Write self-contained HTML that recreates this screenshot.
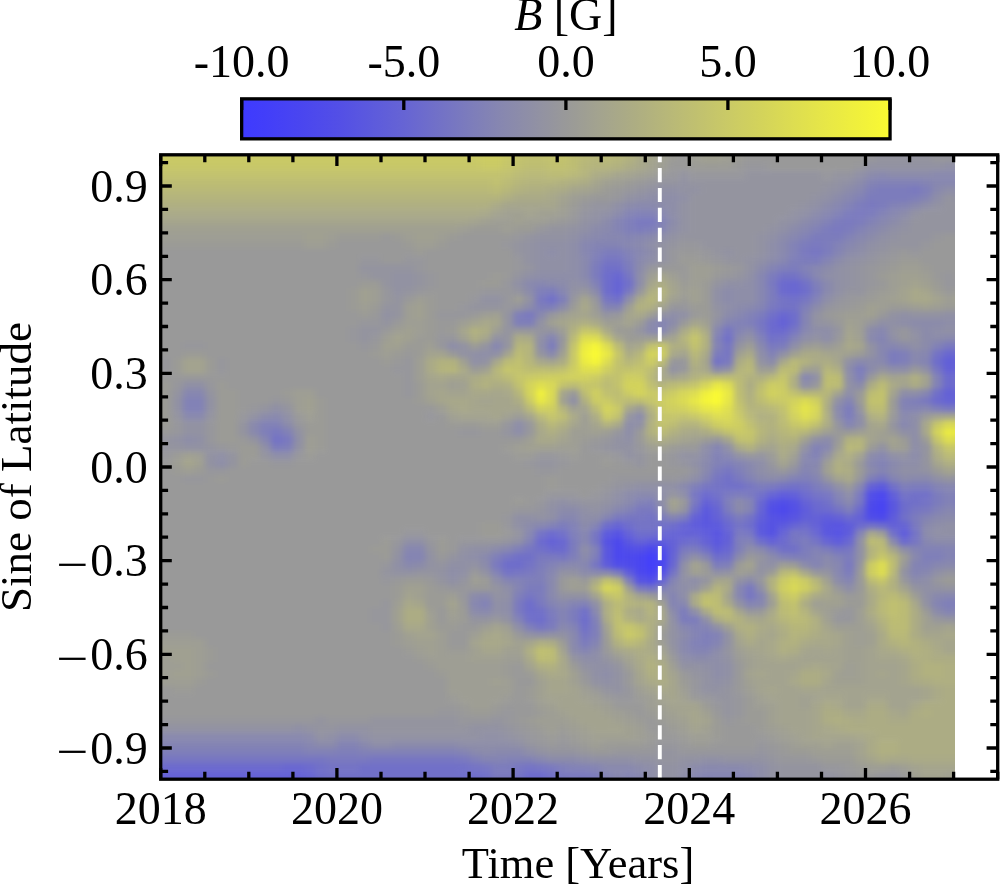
<!DOCTYPE html>
<html><head><meta charset="utf-8"><title>Butterfly diagram</title>
<style>
html,body{margin:0;padding:0;background:#fff;}
svg{display:block;}
text{font-family:"Liberation Serif","Times New Roman",serif;font-size:46px;fill:#000;}
.al{font-size:45px;}
</style></head><body>
<svg width="1000" height="885" viewBox="0 0 1000 885">
<rect width="1000" height="885" fill="#fff"/>
<defs><clipPath id="dc"><rect x="160.7" y="154.8" width="794.3" height="624.4"/></clipPath>
<filter id="bl" x="0" y="0" width="1" height="1" filterUnits="objectBoundingBox" color-interpolation-filters="sRGB"><feGaussianBlur stdDeviation="3 2.5" edgeMode="duplicate"/></filter></defs>
<g clip-path="url(#dc)"><g filter="url(#bl)">
<path fill="#caca66" d="M116.6 123.6H502.5V131.8H116.6zM116.6 131.4H502.5V139.6H116.6zM116.6 139.2H502.5V147.4H116.6zM116.6 147.0H491.5V155.2H116.6zM116.6 154.8H480.5V163.0H116.6zM480.1 162.6H502.5V170.8H480.1zM568.2 349.9H579.6V358.1H568.2zM568.2 357.7H579.6V365.9H568.2zM524.1 373.3H535.5V381.5H524.1zM777.4 381.1H788.9V389.4H777.4zM645.3 389.0H656.7V397.2H645.3zM524.1 396.8H535.5V405.0H524.1zM601.2 396.8H612.6V405.0H601.2zM777.4 396.8H788.9V405.0H777.4zM612.2 404.6H623.7V412.8H612.2zM656.3 404.6H667.7V412.8H656.3zM733.4 412.4H744.8V420.6H733.4zM733.4 428.0H744.8V436.2H733.4zM777.4 576.3H788.9V584.5H777.4zM799.5 576.3H810.9V584.5H799.5zM623.3 630.9H634.7V639.1H623.3z"/>
<path fill="#c7c768" d="M502.1 123.6H513.5V131.8H502.1zM502.1 131.4H513.5V139.6H502.1zM502.1 139.2H513.5V147.4H502.1zM502.1 147.0H513.5V155.2H502.1zM502.1 154.8H513.5V163.0H502.1zM116.6 162.6H480.5V170.8H116.6zM612.2 349.9H623.7V358.1H612.2zM766.4 396.8H777.8V405.0H766.4zM689.3 412.4H700.7V420.6H689.3zM788.5 420.2H799.9V428.4H788.5zM931.6 420.2H943.0V428.4H931.6zM942.6 443.6H954.0V451.8H942.6zM876.6 552.9H888.0V561.1H876.6zM876.6 576.3H888.0V584.5H876.6zM612.2 591.9H623.7V600.1H612.2z"/>
<path fill="#c2c26d" d="M513.1 123.6H524.5V131.8H513.1zM513.1 131.4H524.5V139.6H513.1zM513.1 139.2H524.5V147.4H513.1zM513.1 147.0H524.5V155.2H513.1zM557.2 147.0H568.6V155.2H557.2zM513.1 154.8H524.5V163.0H513.1zM546.2 154.8H568.6V163.0H546.2zM116.6 170.4H502.5V178.6H116.6zM590.2 326.5H601.6V334.7H590.2zM645.3 342.1H656.7V350.3H645.3zM689.3 342.1H700.7V350.3H689.3zM612.2 357.7H623.7V365.9H612.2zM513.1 365.5H524.5V373.7H513.1zM612.2 365.5H634.7V373.7H612.2zM612.2 373.3H623.7V381.5H612.2zM557.2 381.1H568.6V389.4H557.2zM612.2 381.1H623.7V389.4H612.2zM755.4 389.0H766.8V397.2H755.4zM876.6 389.0H888.0V397.2H876.6zM865.5 396.8H888.0V405.0H865.5zM777.4 404.6H788.9V412.8H777.4zM612.2 412.4H623.7V420.6H612.2zM678.3 412.4H689.7V420.6H678.3zM656.3 420.2H667.7V428.4H656.3zM810.5 420.2H821.9V428.4H810.5zM722.4 428.0H733.8V436.2H722.4zM744.4 435.8H755.8V444.0H744.4zM986.7 443.6H998.1V451.8H986.7zM601.2 576.3H612.6V584.5H601.2zM700.3 599.7H711.8V607.9H700.3zM788.5 599.7H799.9V607.9H788.5zM634.3 630.9H645.7V639.1H634.3z"/>
<path fill="#c0c070" d="M524.1 123.6H568.6V131.8H524.1zM524.1 131.4H568.6V139.6H524.1zM535.1 139.2H568.6V147.4H535.1zM524.1 147.0H557.6V155.2H524.1zM524.1 154.8H546.6V163.0H524.1zM513.1 162.6H524.5V170.8H513.1zM546.2 162.6H568.6V170.8H546.2zM502.1 170.4H513.5V178.6H502.1zM491.1 178.2H502.5V186.4H491.1zM601.2 334.3H612.6V342.5H601.2zM513.1 357.7H524.5V365.9H513.1zM557.2 365.5H568.6V373.7H557.2zM601.2 373.3H612.6V381.5H601.2zM513.1 381.1H524.5V389.4H513.1zM645.3 381.1H656.7V389.4H645.3zM678.3 381.1H689.7V389.4H678.3zM601.2 389.0H612.6V397.2H601.2zM788.5 389.0H799.9V397.2H788.5zM612.2 396.8H623.7V405.0H612.2zM733.4 396.8H744.8V405.0H733.4zM700.3 420.2H711.8V428.4H700.3zM744.4 420.2H755.8V428.4H744.4zM733.4 435.8H744.8V444.0H733.4zM964.7 443.6H987.1V451.8H964.7zM601.2 591.9H612.6V600.1H601.2zM887.6 599.7H899.0V607.9H887.6zM788.5 607.5H799.9V615.7H788.5zM887.6 607.5H899.0V615.7H887.6zM612.2 615.3H623.7V623.5H612.2zM612.2 623.1H623.7V631.3H612.2zM535.1 646.5H546.6V654.7H535.1z"/>
<path fill="#bdbd72" d="M568.2 123.6H579.6V131.8H568.2zM568.2 131.4H579.6V139.6H568.2zM524.1 139.2H535.5V147.4H524.1zM568.2 139.2H579.6V147.4H568.2zM568.2 147.0H579.6V155.2H568.2zM568.2 154.8H579.6V163.0H568.2zM524.1 162.6H546.6V170.8H524.1zM568.2 162.6H579.6V170.8H568.2zM116.6 178.2H491.5V186.4H116.6zM634.3 357.7H645.7V365.9H634.3zM524.1 365.5H546.6V373.7H524.1zM645.3 365.5H656.7V373.7H645.3zM711.4 373.3H722.8V381.5H711.4zM821.5 373.3H843.9V381.5H821.5zM755.4 381.1H766.8V389.4H755.4zM821.5 381.1H832.9V389.4H821.5zM579.2 389.0H590.6V397.2H579.2zM612.2 389.0H623.7V397.2H612.2zM733.4 389.0H744.8V397.2H733.4zM865.5 389.0H877.0V397.2H865.5zM634.3 396.8H645.7V405.0H634.3zM755.4 396.8H766.8V405.0H755.4zM876.6 404.6H888.0V412.8H876.6zM557.2 412.4H568.6V420.6H557.2zM777.4 412.4H788.9V420.6H777.4zM667.3 420.2H678.7V428.4H667.3zM865.5 537.2H877.0V545.5H865.5zM876.6 545.1H888.0V553.3H876.6zM887.6 560.7H899.0V568.9H887.6zM788.5 568.5H799.9V576.7H788.5zM865.5 576.3H877.0V584.5H865.5zM810.5 584.1H821.9V592.3H810.5zM700.3 591.9H711.8V600.1H700.3zM711.4 599.7H722.8V607.9H711.4zM777.4 599.7H788.9V607.9H777.4zM612.2 607.5H623.7V615.7H612.2zM711.4 607.5H722.8V615.7H711.4zM887.6 615.3H899.0V623.5H887.6zM634.3 623.1H645.7V631.3H634.3zM546.2 646.5H557.6V654.7H546.2zM535.1 654.3H546.6V662.5H535.1z"/>
<path fill="#b9b978" d="M579.2 123.6H590.6V131.8H579.2zM579.2 131.4H590.6V139.6H579.2zM579.2 139.2H590.6V147.4H579.2zM579.2 147.0H590.6V155.2H579.2zM579.2 154.8H590.6V163.0H579.2zM601.2 154.8H612.6V163.0H601.2zM524.1 170.4H546.6V178.6H524.1zM568.2 170.4H579.6V178.6H568.2zM116.6 186.0H491.5V194.2H116.6zM689.3 326.5H700.7V334.7H689.3zM689.3 349.9H700.7V358.1H689.3zM788.5 357.7H799.9V365.9H788.5zM744.4 365.5H755.8V373.7H744.4zM645.3 373.3H656.7V381.5H645.3zM700.3 373.3H711.8V381.5H700.3zM733.4 373.3H744.8V381.5H733.4zM766.4 373.3H777.8V381.5H766.4zM524.1 404.6H535.5V412.8H524.1zM766.4 404.6H777.8V412.8H766.4zM535.1 412.4H546.6V420.6H535.1zM744.4 412.4H755.8V420.6H744.4zM546.2 420.2H557.6V428.4H546.2zM843.5 443.6H854.9V451.8H843.5zM953.6 451.4H965.1V459.6H953.6zM876.6 537.2H888.0V545.5H876.6zM887.6 552.9H899.0V561.1H887.6zM777.4 568.5H788.9V576.7H777.4zM887.6 568.5H899.0V576.7H887.6zM876.6 584.1H888.0V592.3H876.6zM799.5 591.9H810.9V600.1H799.5zM876.6 599.7H888.0V607.9H876.6zM876.6 607.5H888.0V615.7H876.6zM799.5 615.3H810.9V623.5H799.5zM887.6 630.9H910.0V639.1H887.6z"/>
<path fill="#b6b67a" d="M590.2 123.6H612.6V131.8H590.2zM590.2 131.4H612.6V139.6H590.2zM590.2 139.2H612.6V147.4H590.2zM590.2 147.0H623.7V155.2H590.2zM590.2 154.8H601.6V163.0H590.2zM612.2 154.8H623.7V163.0H612.2zM579.2 162.6H590.6V170.8H579.2zM513.1 178.2H524.5V186.4H513.1zM502.1 186.0H513.5V194.2H502.1zM645.3 295.3H656.7V303.5H645.3zM513.1 342.1H524.5V350.3H513.1zM634.3 349.9H645.7V358.1H634.3zM524.1 357.7H535.5V365.9H524.1zM623.3 357.7H634.7V365.9H623.3zM744.4 357.7H755.8V365.9H744.4zM447.0 365.5H458.5V373.7H447.0zM491.1 365.5H502.5V373.7H491.1zM821.5 365.5H832.9V373.7H821.5zM513.1 389.0H524.5V397.2H513.1zM799.5 389.0H832.9V397.2H799.5zM711.4 428.0H722.8V436.2H711.4zM755.4 428.0H766.8V436.2H755.4zM777.4 428.0H788.9V436.2H777.4zM799.5 428.0H810.9V436.2H799.5zM854.5 443.6H865.9V451.8H854.5zM975.7 451.4H998.1V459.6H975.7zM865.5 552.9H877.0V561.1H865.5zM810.5 576.3H821.9V584.5H810.5zM590.2 584.1H601.6V592.3H590.2zM876.6 591.9H888.0V600.1H876.6zM722.4 615.3H733.8V623.5H722.4zM777.4 615.3H788.9V623.5H777.4zM788.5 623.1H810.9V631.3H788.5zM634.3 638.7H645.7V646.9H634.3zM898.6 638.7H910.0V646.9H898.6z"/>
<path fill="#b4b47d" d="M612.2 123.6H623.7V131.8H612.2zM612.2 131.4H623.7V139.6H612.2zM612.2 139.2H623.7V147.4H612.2zM590.2 162.6H612.6V170.8H590.2zM579.2 170.4H590.6V178.6H579.2zM524.1 178.2H557.6V186.4H524.1zM116.6 193.8H502.5V202.0H116.6zM656.3 287.5H667.7V295.7H656.3zM678.3 334.3H689.7V342.5H678.3zM524.1 342.1H535.5V350.3H524.1zM524.1 349.9H535.5V358.1H524.1zM436.0 365.5H447.4V373.7H436.0zM733.4 365.5H744.8V373.7H733.4zM491.1 373.3H502.5V381.5H491.1zM656.3 381.1H667.7V389.4H656.3zM557.2 404.6H568.6V412.8H557.2zM645.3 404.6H656.7V412.8H645.3zM744.4 404.6H766.8V412.8H744.4zM876.6 412.4H888.0V420.6H876.6zM601.2 420.2H612.6V428.4H601.2zM678.3 420.2H700.7V428.4H678.3zM755.4 420.2H766.8V428.4H755.4zM854.5 435.8H865.9V444.0H854.5zM931.6 443.6H943.0V451.8H931.6zM964.7 451.4H976.1V459.6H964.7zM865.5 545.1H877.0V553.3H865.5zM612.2 576.3H623.7V584.5H612.2zM711.4 584.1H722.8V592.3H711.4zM623.3 599.7H634.7V607.9H623.3zM645.3 599.7H656.7V607.9H645.3zM645.3 607.5H656.7V615.7H645.3zM799.5 607.5H810.9V615.7H799.5zM876.6 615.3H888.0V623.5H876.6zM788.5 630.9H799.9V639.1H788.5z"/>
<path fill="#afaf82" d="M623.3 123.6H634.7V131.8H623.3zM623.3 131.4H634.7V139.6H623.3zM623.3 139.2H634.7V147.4H623.3zM568.2 178.2H579.6V186.4H568.2zM524.1 186.0H546.6V194.2H524.1zM502.1 193.8H513.5V202.0H502.1zM116.6 201.6H491.5V209.8H116.6zM645.3 287.5H656.7V295.7H645.3zM656.3 295.3H667.7V303.5H656.3zM645.3 303.1H656.7V311.3H645.3zM579.2 318.7H590.6V326.9H579.2zM667.3 342.1H689.7V350.3H667.3zM832.5 365.5H843.9V373.7H832.5zM480.1 373.3H491.5V381.5H480.1zM755.4 373.3H766.8V381.5H755.4zM788.5 373.3H799.9V381.5H788.5zM909.6 373.3H921.0V381.5H909.6zM502.1 381.1H513.5V389.4H502.1zM788.5 381.1H799.9V389.4H788.5zM744.4 389.0H755.8V397.2H744.4zM821.5 396.8H832.9V405.0H821.5zM755.4 412.4H766.8V420.6H755.4zM821.5 412.4H832.9V420.6H821.5zM865.5 412.4H877.0V420.6H865.5zM546.2 428.0H557.6V436.2H546.2zM766.4 428.0H777.8V436.2H766.4zM843.5 451.4H854.9V459.6H843.5zM832.5 459.2H843.9V467.4H832.5zM942.6 459.2H965.1V467.4H942.6zM832.5 467.0H843.9V475.2H832.5zM865.5 584.1H877.0V592.3H865.5zM601.2 599.7H612.6V607.9H601.2zM601.2 607.5H612.6V615.7H601.2zM645.3 615.3H656.7V623.5H645.3zM810.5 615.3H821.9V623.5H810.5zM645.3 623.1H656.7V631.3H645.3zM733.4 623.1H744.8V631.3H733.4zM777.4 623.1H788.9V631.3H777.4zM810.5 623.1H821.9V631.3H810.5zM876.6 623.1H888.0V631.3H876.6zM645.3 630.9H656.7V639.1H645.3zM744.4 630.9H755.8V639.1H744.4zM535.1 638.7H546.6V646.9H535.1zM777.4 638.7H788.9V646.9H777.4zM524.1 646.5H535.5V654.7H524.1zM777.4 646.5H788.9V654.7H777.4zM898.6 646.5H910.0V654.7H898.6zM920.6 646.5H932.0V654.7H920.6zM645.3 654.3H656.7V662.5H645.3zM909.6 654.3H932.0V662.5H909.6zM535.1 662.1H546.6V670.3H535.1zM942.6 662.1H965.1V670.3H942.6zM986.7 662.1H998.1V670.3H986.7zM645.3 669.9H656.7V678.1H645.3zM942.6 669.9H998.1V678.1H942.6zM931.6 677.7H998.1V685.9H931.6zM920.6 709.0H932.0V717.2H920.6zM832.5 716.8H843.9V725.0H832.5zM876.6 740.2H899.0V748.4H876.6zM876.6 748.0H899.0V756.2H876.6z"/>
<path fill="#aaaa87" d="M634.3 123.6H645.7V131.8H634.3zM634.3 131.4H645.7V139.6H634.3zM634.3 139.2H645.7V147.4H634.3zM634.3 147.0H645.7V155.2H634.3zM634.3 154.8H645.7V163.0H634.3zM601.2 170.4H612.6V178.6H601.2zM557.2 186.0H568.6V194.2H557.2zM513.1 193.8H546.6V202.0H513.1zM491.1 201.6H502.5V209.8H491.1zM116.6 209.4H480.5V217.6H116.6zM634.3 295.3H645.7V303.5H634.3zM568.2 318.7H579.6V326.9H568.2zM590.2 318.7H601.6V326.9H590.2zM601.2 326.5H612.6V334.7H601.2zM678.3 326.5H689.7V334.7H678.3zM700.3 326.5H711.8V334.7H700.3zM524.1 334.3H535.5V342.5H524.1zM700.3 349.9H711.8V358.1H700.3zM744.4 349.9H755.8V358.1H744.4zM799.5 349.9H821.9V358.1H799.5zM425.0 357.7H436.4V365.9H425.0zM810.5 357.7H821.9V365.9H810.5zM425.0 365.5H436.4V373.7H425.0zM458.1 365.5H469.5V373.7H458.1zM656.3 365.5H667.7V373.7H656.3zM469.1 373.3H480.5V381.5H469.1zM876.6 373.3H888.0V381.5H876.6zM887.6 381.1H899.0V389.4H887.6zM568.2 412.4H579.6V420.6H568.2zM612.2 420.2H623.7V428.4H612.2zM678.3 428.0H689.7V436.2H678.3zM810.5 428.0H821.9V436.2H810.5zM766.4 435.8H777.8V444.0H766.4zM733.4 443.6H744.8V451.8H733.4zM777.4 451.4H788.9V459.6H777.4zM843.5 459.2H854.9V467.4H843.5zM590.2 576.3H601.6V584.5H590.2zM722.4 584.1H733.8V592.3H722.4zM689.3 591.9H700.7V600.1H689.3zM810.5 591.9H821.9V600.1H810.5zM865.5 591.9H877.0V600.1H865.5zM689.3 599.7H700.7V607.9H689.3zM722.4 599.7H733.8V607.9H722.4zM865.5 599.7H877.0V607.9H865.5zM700.3 607.5H711.8V615.7H700.3zM634.3 615.3H645.7V623.5H634.3zM755.4 623.1H766.8V631.3H755.4zM876.6 630.9H888.0V639.1H876.6zM645.3 638.7H656.7V646.9H645.3zM744.4 638.7H755.8V646.9H744.4zM799.5 638.7H810.9V646.9H799.5zM876.6 638.7H888.0V646.9H876.6zM623.3 646.5H634.7V654.7H623.3zM645.3 646.5H656.7V654.7H645.3zM887.6 646.5H899.0V654.7H887.6zM931.6 646.5H943.0V654.7H931.6zM524.1 654.3H535.5V662.5H524.1zM634.3 654.3H645.7V662.5H634.3zM546.2 669.9H557.6V678.1H546.2zM645.3 677.7H656.7V685.9H645.3zM909.6 677.7H921.0V685.9H909.6zM931.6 685.5H943.0V693.7H931.6zM931.6 693.3H943.0V701.6H931.6zM821.5 701.2H832.9V709.4H821.5zM865.5 701.2H888.0V709.4H865.5zM854.5 716.8H865.9V725.0H854.5zM887.6 716.8H910.0V725.0H887.6zM832.5 724.6H843.9V732.8H832.5zM865.5 732.4H877.0V740.6H865.5zM865.5 740.2H877.0V748.4H865.5zM865.5 748.0H877.0V756.2H865.5zM876.6 755.8H888.0V764.0H876.6zM909.6 755.8H998.1V764.0H909.6z"/>
<path fill="#a5a58c" d="M645.3 123.6H656.7V131.8H645.3zM645.3 131.4H656.7V139.6H645.3zM645.3 139.2H656.7V147.4H645.3zM645.3 147.0H656.7V155.2H645.3zM645.3 154.8H656.7V163.0H645.3zM612.2 170.4H623.7V178.6H612.2zM590.2 178.2H601.6V186.4H590.2zM568.2 186.0H579.6V194.2H568.2zM502.1 201.6H557.6V209.8H502.1zM116.6 217.2H469.5V225.4H116.6zM656.3 271.9H667.7V280.1H656.3zM645.3 279.7H656.7V287.9H645.3zM667.3 287.5H678.7V295.7H667.3zM920.6 287.5H932.0V295.7H920.6zM579.2 295.3H590.6V303.5H579.2zM579.2 310.9H590.6V319.1H579.2zM623.3 310.9H634.7V319.1H623.3zM491.1 318.7H502.5V326.9H491.1zM557.2 318.7H568.6V326.9H557.2zM689.3 318.7H700.7V326.9H689.3zM458.1 326.5H469.5V334.7H458.1zM480.1 334.3H491.5V342.5H480.1zM612.2 334.3H623.7V342.5H612.2zM843.5 334.3H854.9V342.5H843.5zM854.5 342.1H865.9V350.3H854.5zM821.5 349.9H832.9V358.1H821.5zM700.3 357.7H711.8V365.9H700.3zM832.5 357.7H843.9V365.9H832.5zM425.0 373.3H436.4V381.5H425.0zM447.0 373.3H469.5V381.5H447.0zM898.6 373.3H910.0V381.5H898.6zM436.0 389.0H447.4V397.2H436.0zM491.1 389.0H502.5V397.2H491.1zM557.2 389.0H568.6V397.2H557.2zM436.0 396.8H447.4V405.0H436.0zM469.1 396.8H480.5V405.0H469.1zM491.1 396.8H513.5V405.0H491.1zM447.0 404.6H458.5V412.8H447.0zM469.1 404.6H524.5V412.8H469.1zM623.3 404.6H634.7V412.8H623.3zM491.1 412.4H502.5V420.6H491.1zM524.1 412.4H535.5V420.6H524.1zM942.6 412.4H965.1V420.6H942.6zM975.7 412.4H998.1V420.6H975.7zM568.2 420.2H579.6V428.4H568.2zM590.2 420.2H601.6V428.4H590.2zM865.5 420.2H877.0V428.4H865.5zM722.4 435.8H733.8V444.0H722.4zM755.4 443.6H766.8V451.8H755.4zM182.7 459.2H194.1V467.4H182.7zM931.6 459.2H943.0V467.4H931.6zM887.6 545.1H899.0V553.3H887.6zM711.4 576.3H733.8V584.5H711.4zM821.5 591.9H832.9V600.1H821.5zM414.0 599.7H425.4V607.9H414.0zM733.4 607.5H744.8V615.7H733.4zM810.5 607.5H821.9V615.7H810.5zM755.4 615.3H766.8V623.5H755.4zM821.5 623.1H832.9V631.3H821.5zM480.1 630.9H491.5V639.1H480.1zM766.4 630.9H777.8V639.1H766.4zM832.5 630.9H843.9V639.1H832.5zM920.6 630.9H943.0V639.1H920.6zM964.7 630.9H976.1V639.1H964.7zM502.1 638.7H513.5V646.9H502.1zM524.1 638.7H535.5V646.9H524.1zM755.4 638.7H766.8V646.9H755.4zM832.5 638.7H843.9V646.9H832.5zM942.6 638.7H998.1V646.9H942.6zM480.1 646.5H502.5V654.7H480.1zM612.2 646.5H623.7V654.7H612.2zM755.4 646.5H766.8V654.7H755.4zM799.5 646.5H810.9V654.7H799.5zM821.5 646.5H832.9V654.7H821.5zM942.6 646.5H965.1V654.7H942.6zM766.4 654.3H777.8V662.5H766.4zM788.5 654.3H799.9V662.5H788.5zM876.6 654.3H899.0V662.5H876.6zM799.5 662.1H810.9V670.3H799.5zM821.5 662.1H832.9V670.3H821.5zM898.6 662.1H910.0V670.3H898.6zM535.1 669.9H546.6V678.1H535.1zM634.3 669.9H645.7V678.1H634.3zM755.4 669.9H766.8V678.1H755.4zM788.5 669.9H799.9V678.1H788.5zM876.6 669.9H888.0V678.1H876.6zM898.6 669.9H910.0V678.1H898.6zM546.2 677.7H568.6V685.9H546.2zM667.3 677.7H678.7V685.9H667.3zM821.5 677.7H832.9V685.9H821.5zM898.6 677.7H910.0V685.9H898.6zM546.2 685.5H568.6V693.7H546.2zM667.3 685.5H678.7V693.7H667.3zM766.4 685.5H777.8V693.7H766.4zM799.5 685.5H821.9V693.7H799.5zM920.6 685.5H932.0V693.7H920.6zM667.3 693.3H678.7V701.6H667.3zM821.5 693.3H843.9V701.6H821.5zM865.5 693.3H888.0V701.6H865.5zM920.6 693.3H932.0V701.6H920.6zM810.5 701.2H821.9V709.4H810.5zM689.3 709.0H700.7V717.2H689.3zM810.5 709.0H821.9V717.2H810.5zM898.6 709.0H910.0V717.2H898.6zM689.3 716.8H700.7V725.0H689.3zM810.5 716.8H821.9V725.0H810.5zM810.5 724.6H821.9V732.8H810.5zM810.5 732.4H854.9V740.6H810.5zM865.5 755.8H877.0V764.0H865.5zM920.6 763.6H998.1V771.8H920.6z"/>
<path fill="#a0a091" d="M656.3 123.6H667.7V131.8H656.3zM656.3 131.4H667.7V139.6H656.3zM656.3 139.2H667.7V147.4H656.3zM656.3 147.0H667.7V155.2H656.3zM700.3 147.0H722.8V155.2H700.3zM656.3 154.8H667.7V163.0H656.3zM700.3 154.8H722.8V163.0H700.3zM634.3 170.4H645.7V178.6H634.3zM601.2 178.2H612.6V186.4H601.2zM590.2 186.0H601.6V194.2H590.2zM557.2 201.6H568.6V209.8H557.2zM502.1 209.4H524.5V217.6H502.1zM535.1 209.4H557.6V217.6H535.1zM480.1 217.2H491.5V225.4H480.1zM513.1 217.2H524.5V225.4H513.1zM116.6 225.0H458.5V233.3H116.6zM303.9 232.9H326.3V241.1H303.9zM414.0 232.9H436.4V241.1H414.0zM898.6 271.9H921.0V280.1H898.6zM898.6 279.7H910.0V287.9H898.6zM920.6 279.7H932.0V287.9H920.6zM358.9 287.5H370.3V295.7H358.9zM689.3 287.5H700.7V295.7H689.3zM358.9 295.3H370.3V303.5H358.9zM667.3 295.3H678.7V303.5H667.3zM689.3 295.3H700.7V303.5H689.3zM887.6 295.3H899.0V303.5H887.6zM953.6 295.3H998.1V303.5H953.6zM414.0 303.1H425.4V311.3H414.0zM865.5 303.1H877.0V311.3H865.5zM920.6 303.1H932.0V311.3H920.6zM414.0 310.9H425.4V319.1H414.0zM491.1 310.9H502.5V319.1H491.1zM865.5 310.9H877.0V319.1H865.5zM546.2 318.7H557.6V326.9H546.2zM700.3 318.7H711.8V326.9H700.3zM843.5 318.7H854.9V326.9H843.5zM403.0 326.5H414.4V334.7H403.0zM403.0 334.3H414.4V342.5H403.0zM458.1 334.3H469.5V342.5H458.1zM854.5 334.3H865.9V342.5H854.5zM381.0 342.1H403.4V350.3H381.0zM557.2 349.9H568.6V358.1H557.2zM733.4 349.9H744.8V358.1H733.4zM788.5 349.9H799.9V358.1H788.5zM843.5 349.9H854.9V358.1H843.5zM458.1 357.7H469.5V365.9H458.1zM480.1 365.5H491.5V373.7H480.1zM799.5 365.5H810.9V373.7H799.5zM458.1 381.1H469.5V389.4H458.1zM920.6 381.1H932.0V389.4H920.6zM303.9 396.8H315.3V405.0H303.9zM425.0 396.8H436.4V405.0H425.0zM557.2 396.8H568.6V405.0H557.2zM303.9 404.6H315.3V412.8H303.9zM568.2 404.6H579.6V412.8H568.2zM447.0 412.4H458.5V420.6H447.0zM502.1 412.4H513.5V420.6H502.1zM590.2 428.0H601.6V436.2H590.2zM876.6 428.0H888.0V436.2H876.6zM689.3 435.8H700.7V444.0H689.3zM799.5 435.8H810.9V444.0H799.5zM524.1 443.6H557.6V451.8H524.1zM656.3 443.6H667.7V451.8H656.3zM887.6 443.6H899.0V451.8H887.6zM182.7 451.4H194.1V459.6H182.7zM788.5 451.4H799.9V459.6H788.5zM193.7 459.2H205.2V467.4H193.7zM821.5 467.0H832.9V475.2H821.5zM953.6 467.0H998.1V475.2H953.6zM689.3 568.5H700.7V576.7H689.3zM821.5 576.3H832.9V584.5H821.5zM403.0 584.1H425.4V592.3H403.0zM700.3 584.1H711.8V592.3H700.3zM414.0 591.9H425.4V600.1H414.0zM832.5 591.9H843.9V600.1H832.5zM656.3 599.7H667.7V607.9H656.3zM821.5 599.7H843.9V607.9H821.5zM392.0 607.5H403.4V615.7H392.0zM447.0 607.5H458.5V615.7H447.0zM392.0 615.3H403.4V623.5H392.0zM425.0 615.3H436.4V623.5H425.0zM821.5 615.3H832.9V623.5H821.5zM920.6 615.3H932.0V623.5H920.6zM425.0 623.1H436.4V631.3H425.0zM656.3 623.1H667.7V631.3H656.3zM722.4 623.1H733.8V631.3H722.4zM920.6 623.1H943.0V631.3H920.6zM953.6 623.1H998.1V631.3H953.6zM403.0 630.9H414.4V639.1H403.0zM843.5 630.9H854.9V639.1H843.5zM865.5 630.9H877.0V639.1H865.5zM414.0 638.7H436.4V646.9H414.0zM513.1 638.7H524.5V646.9H513.1zM843.5 638.7H854.9V646.9H843.5zM865.5 638.7H877.0V646.9H865.5zM116.6 646.5H194.1V654.7H116.6zM425.0 646.5H436.4V654.7H425.0zM469.1 646.5H480.5V654.7H469.1zM502.1 646.5H524.5V654.7H502.1zM843.5 646.5H865.9V654.7H843.5zM171.7 654.3H194.1V662.5H171.7zM469.1 654.3H502.5V662.5H469.1zM744.4 654.3H755.8V662.5H744.4zM843.5 654.3H865.9V662.5H843.5zM182.7 662.1H194.1V670.3H182.7zM744.4 662.1H755.8V670.3H744.4zM854.5 662.1H865.9V670.3H854.5zM171.7 669.9H194.1V678.1H171.7zM568.2 669.9H579.6V678.1H568.2zM832.5 669.9H843.9V678.1H832.5zM854.5 669.9H865.9V678.1H854.5zM491.1 677.7H502.5V685.9H491.1zM535.1 677.7H546.6V685.9H535.1zM568.2 677.7H579.6V685.9H568.2zM744.4 677.7H755.8V685.9H744.4zM832.5 677.7H865.9V685.9H832.5zM535.1 685.5H546.6V693.7H535.1zM535.1 693.3H546.6V701.6H535.1zM579.2 693.3H590.6V701.6H579.2zM678.3 693.3H689.7V701.6H678.3zM755.4 693.3H766.8V701.6H755.4zM799.5 693.3H810.9V701.6H799.5zM546.2 701.2H557.6V709.4H546.2zM590.2 701.2H601.6V709.4H590.2zM656.3 701.2H667.7V709.4H656.3zM766.4 701.2H777.8V709.4H766.4zM799.5 701.2H810.9V709.4H799.5zM557.2 709.0H568.6V717.2H557.2zM601.2 709.0H612.6V717.2H601.2zM667.3 709.0H678.7V717.2H667.3zM700.3 709.0H711.8V717.2H700.3zM766.4 709.0H777.8V717.2H766.4zM568.2 716.8H579.6V725.0H568.2zM612.2 716.8H623.7V725.0H612.2zM678.3 716.8H689.7V725.0H678.3zM766.4 716.8H777.8V725.0H766.4zM579.2 724.6H590.6V732.8H579.2zM623.3 724.6H634.7V732.8H623.3zM700.3 724.6H711.8V732.8H700.3zM777.4 724.6H788.9V732.8H777.4zM590.2 732.4H634.7V740.6H590.2zM788.5 732.4H799.9V740.6H788.5zM799.5 740.2H821.9V748.4H799.5zM832.5 740.2H854.9V748.4H832.5zM854.5 755.8H865.9V764.0H854.5zM909.6 771.4H921.0V779.6H909.6zM942.6 771.4H954.0V779.6H942.6zM909.6 779.2H921.0V787.4H909.6zM909.6 787.0H921.0V795.2H909.6zM909.6 794.8H921.0V803.0H909.6zM909.6 802.6H921.0V810.8H909.6z"/>
<path fill="#9b9b96" d="M667.3 123.6H678.7V131.8H667.3zM689.3 123.6H700.7V131.8H689.3zM667.3 131.4H678.7V139.6H667.3zM689.3 131.4H700.7V139.6H689.3zM722.4 131.4H733.8V139.6H722.4zM689.3 139.2H700.7V147.4H689.3zM722.4 139.2H733.8V147.4H722.4zM667.3 147.0H678.7V155.2H667.3zM733.4 147.0H744.8V155.2H733.4zM667.3 154.8H678.7V163.0H667.3zM733.4 154.8H744.8V163.0H733.4zM689.3 162.6H733.8V170.8H689.3zM623.3 178.2H634.7V186.4H623.3zM601.2 186.0H612.6V194.2H601.2zM579.2 193.8H590.6V202.0H579.2zM568.2 201.6H579.6V209.8H568.2zM546.2 217.2H557.6V225.4H546.2zM469.1 225.0H502.5V233.3H469.1zM513.1 225.0H535.5V233.3H513.1zM336.9 232.9H381.4V241.1H336.9zM392.0 232.9H403.4V241.1H392.0zM447.0 232.9H458.5V241.1H447.0zM116.6 240.7H304.3V248.9H116.6zM325.9 240.7H337.3V248.9H325.9zM403.0 240.7H414.4V248.9H403.0zM436.0 240.7H447.4V248.9H436.0zM414.0 248.5H425.4V256.7H414.0zM678.3 256.3H700.7V264.5H678.3zM898.6 256.3H921.0V264.5H898.6zM711.4 264.1H722.8V272.3H711.4zM887.6 264.1H899.0V272.3H887.6zM920.6 264.1H932.0V272.3H920.6zM491.1 271.9H502.5V280.1H491.1zM876.6 271.9H888.0V280.1H876.6zM358.9 279.7H381.4V287.9H358.9zM480.1 279.7H502.5V287.9H480.1zM678.3 279.7H689.7V287.9H678.3zM700.3 279.7H711.8V287.9H700.3zM931.6 279.7H943.0V287.9H931.6zM347.9 287.5H359.3V295.7H347.9zM700.3 287.5H711.8V295.7H700.3zM876.6 287.5H888.0V295.7H876.6zM953.6 287.5H998.1V295.7H953.6zM347.9 295.3H359.3V303.5H347.9zM425.0 295.3H436.4V303.5H425.0zM678.3 295.3H689.7V303.5H678.3zM700.3 295.3H711.8V303.5H700.3zM865.5 295.3H877.0V303.5H865.5zM347.9 303.1H359.3V311.3H347.9zM369.9 303.1H381.4V311.3H369.9zM425.0 303.1H436.4V311.3H425.0zM568.2 303.1H579.6V311.3H568.2zM590.2 303.1H601.6V311.3H590.2zM689.3 303.1H711.8V311.3H689.3zM854.5 303.1H865.9V311.3H854.5zM887.6 303.1H910.0V311.3H887.6zM942.6 303.1H998.1V311.3H942.6zM358.9 310.9H370.3V319.1H358.9zM425.0 310.9H436.4V319.1H425.0zM700.3 310.9H711.8V319.1H700.3zM832.5 310.9H843.9V319.1H832.5zM425.0 318.7H436.4V326.9H425.0zM634.3 318.7H645.7V326.9H634.3zM425.0 326.5H436.4V334.7H425.0zM447.0 326.5H458.5V334.7H447.0zM612.2 326.5H634.7V334.7H612.2zM414.0 334.3H436.4V342.5H414.0zM623.3 334.3H645.7V342.5H623.3zM403.0 342.1H425.4V350.3H403.0zM469.1 342.1H480.5V350.3H469.1zM799.5 342.1H810.9V350.3H799.5zM182.7 349.9H205.2V358.1H182.7zM369.9 349.9H381.4V358.1H369.9zM392.0 349.9H403.4V358.1H392.0zM414.0 349.9H425.4V358.1H414.0zM854.5 349.9H865.9V358.1H854.5zM171.7 357.7H183.1V365.9H171.7zM204.8 357.7H216.2V365.9H204.8zM381.0 357.7H392.4V365.9H381.0zM171.7 365.5H183.1V373.7H171.7zM204.8 365.5H216.2V373.7H204.8zM469.1 365.5H480.5V373.7H469.1zM160.7 381.1H172.1V389.4H160.7zM215.8 381.1H227.2V389.4H215.8zM414.0 381.1H425.4V389.4H414.0zM149.7 389.0H172.1V397.2H149.7zM215.8 389.0H238.2V397.2H215.8zM281.8 389.0H293.3V397.2H281.8zM414.0 389.0H425.4V397.2H414.0zM149.7 396.8H172.1V405.0H149.7zM215.8 396.8H238.2V405.0H215.8zM314.9 396.8H326.3V405.0H314.9zM414.0 396.8H425.4V405.0H414.0zM854.5 396.8H865.9V405.0H854.5zM887.6 396.8H899.0V405.0H887.6zM149.7 404.6H172.1V412.8H149.7zM215.8 404.6H238.2V412.8H215.8zM314.9 404.6H326.3V412.8H314.9zM634.3 404.6H645.7V412.8H634.3zM887.6 404.6H899.0V412.8H887.6zM149.7 412.4H172.1V420.6H149.7zM215.8 412.4H238.2V420.6H215.8zM314.9 412.4H326.3V420.6H314.9zM513.1 412.4H524.5V420.6H513.1zM149.7 420.2H172.1V428.4H149.7zM215.8 420.2H238.2V428.4H215.8zM303.9 420.2H326.3V428.4H303.9zM447.0 420.2H480.5V428.4H447.0zM215.8 428.0H238.2V436.2H215.8zM303.9 428.0H326.3V436.2H303.9zM215.8 435.8H238.2V444.0H215.8zM314.9 435.8H326.3V444.0H314.9zM579.2 435.8H590.6V444.0H579.2zM700.3 435.8H711.8V444.0H700.3zM898.6 435.8H910.0V444.0H898.6zM920.6 435.8H932.0V444.0H920.6zM237.8 443.6H260.2V451.8H237.8zM314.9 443.6H326.3V451.8H314.9zM502.1 443.6H513.5V451.8H502.1zM667.3 443.6H678.7V451.8H667.3zM865.5 443.6H877.0V451.8H865.5zM171.7 451.4H183.1V459.6H171.7zM237.8 451.4H260.2V459.6H237.8zM303.9 451.4H315.3V459.6H303.9zM513.1 451.4H535.5V459.6H513.1zM568.2 451.4H579.6V459.6H568.2zM766.4 451.4H777.8V459.6H766.4zM138.7 459.2H150.1V467.4H138.7zM237.8 459.2H249.2V467.4H237.8zM601.2 459.2H612.6V467.4H601.2zM171.7 467.0H183.1V475.2H171.7zM193.7 467.0H205.2V475.2H193.7zM854.5 467.0H865.9V475.2H854.5zM931.6 467.0H943.0V475.2H931.6zM215.8 474.8H227.2V483.0H215.8zM546.2 474.8H557.6V483.0H546.2zM546.2 482.6H557.6V490.8H546.2zM513.1 498.2H524.5V506.4H513.1zM480.1 521.6H502.5V529.8H480.1zM480.1 529.4H502.5V537.6H480.1zM381.0 537.2H392.4V545.5H381.0zM436.0 537.2H447.4V545.5H436.0zM369.9 545.1H392.4V553.3H369.9zM436.0 545.1H447.4V553.3H436.0zM381.0 552.9H392.4V561.1H381.0zM733.4 560.7H744.8V568.9H733.4zM788.5 560.7H799.9V568.9H788.5zM700.3 568.5H711.8V576.7H700.3zM744.4 568.5H755.8V576.7H744.4zM766.4 568.5H777.8V576.7H766.4zM403.0 576.3H425.4V584.5H403.0zM480.1 576.3H491.5V584.5H480.1zM942.6 576.3H965.1V584.5H942.6zM392.0 584.1H403.4V592.3H392.0zM425.0 584.1H436.4V592.3H425.0zM392.0 591.9H403.4V600.1H392.0zM425.0 591.9H447.4V600.1H425.0zM645.3 591.9H656.7V600.1H645.3zM854.5 591.9H865.9V600.1H854.5zM425.0 599.7H447.4V607.9H425.0zM843.5 599.7H865.9V607.9H843.5zM458.1 607.5H469.5V615.7H458.1zM920.6 607.5H932.0V615.7H920.6zM458.1 615.3H469.5V623.5H458.1zM436.0 623.1H458.5V631.3H436.0zM116.6 630.9H194.1V639.1H116.6zM392.0 630.9H403.4V639.1H392.0zM656.3 630.9H667.7V639.1H656.3zM392.0 638.7H403.4V646.9H392.0zM557.2 638.7H568.6V646.9H557.2zM601.2 638.7H612.6V646.9H601.2zM204.8 646.5H216.2V654.7H204.8zM403.0 646.5H414.4V654.7H403.0zM447.0 646.5H469.5V654.7H447.0zM204.8 654.3H216.2V662.5H204.8zM414.0 654.3H425.4V662.5H414.0zM612.2 654.3H623.7V662.5H612.2zM733.4 654.3H744.8V662.5H733.4zM425.0 662.1H436.4V670.3H425.0zM502.1 662.1H513.5V670.3H502.1zM568.2 662.1H579.6V670.3H568.2zM204.8 669.9H216.2V678.1H204.8zM436.0 669.9H447.4V678.1H436.0zM502.1 669.9H513.5V678.1H502.1zM524.1 669.9H535.5V678.1H524.1zM193.7 677.7H205.2V685.9H193.7zM678.3 677.7H689.7V685.9H678.3zM171.7 685.5H194.1V693.7H171.7zM524.1 685.5H535.5V693.7H524.1zM447.0 693.3H458.5V701.6H447.0zM502.1 693.3H513.5V701.6H502.1zM524.1 693.3H535.5V701.6H524.1zM634.3 693.3H645.7V701.6H634.3zM744.4 693.3H755.8V701.6H744.4zM458.1 701.2H469.5V709.4H458.1zM491.1 701.2H502.5V709.4H491.1zM700.3 701.2H711.8V709.4H700.3zM744.4 701.2H755.8V709.4H744.4zM469.1 709.0H491.5V717.2H469.1zM535.1 709.0H546.6V717.2H535.1zM623.3 709.0H634.7V717.2H623.3zM645.3 709.0H656.7V717.2H645.3zM744.4 709.0H766.8V717.2H744.4zM524.1 716.8H535.5V725.0H524.1zM634.3 716.8H645.7V725.0H634.3zM656.3 716.8H667.7V725.0H656.3zM711.4 716.8H722.8V725.0H711.4zM744.4 716.8H766.8V725.0H744.4zM535.1 724.6H546.6V732.8H535.1zM557.2 724.6H568.6V732.8H557.2zM667.3 724.6H678.7V732.8H667.3zM711.4 724.6H722.8V732.8H711.4zM755.4 724.6H766.8V732.8H755.4zM546.2 732.4H557.6V740.6H546.2zM568.2 732.4H579.6V740.6H568.2zM645.3 732.4H656.7V740.6H645.3zM678.3 732.4H689.7V740.6H678.3zM711.4 732.4H722.8V740.6H711.4zM766.4 732.4H777.8V740.6H766.4zM579.2 740.2H590.6V748.4H579.2zM601.2 740.2H645.7V748.4H601.2zM689.3 740.2H711.8V748.4H689.3zM777.4 740.2H788.9V748.4H777.4zM788.5 748.0H810.9V756.2H788.5zM821.5 755.8H854.9V764.0H821.5zM854.5 763.6H865.9V771.8H854.5zM887.6 763.6H899.0V771.8H887.6zM898.6 779.2H910.0V787.4H898.6zM898.6 787.0H910.0V795.2H898.6zM898.6 794.8H910.0V803.0H898.6zM898.6 802.6H910.0V810.8H898.6z"/>
<path fill="#999999" d="M678.3 123.6H689.7V131.8H678.3zM733.4 123.6H865.9V131.8H733.4zM678.3 131.4H689.7V139.6H678.3zM733.4 131.4H865.9V139.6H733.4zM667.3 139.2H689.7V147.4H667.3zM733.4 139.2H854.9V147.4H733.4zM678.3 147.0H689.7V155.2H678.3zM744.4 147.0H865.9V155.2H744.4zM678.3 154.8H689.7V163.0H678.3zM744.4 154.8H865.9V163.0H744.4zM667.3 162.6H689.7V170.8H667.3zM733.4 162.6H744.8V170.8H733.4zM766.4 162.6H854.9V170.8H766.4zM656.3 170.4H667.7V178.6H656.3zM634.3 178.2H645.7V186.4H634.3zM612.2 186.0H623.7V194.2H612.2zM590.2 193.8H612.6V202.0H590.2zM568.2 209.4H579.6V217.6H568.2zM557.2 217.2H568.6V225.4H557.2zM381.0 232.9H392.4V241.1H381.0zM458.1 232.9H513.5V241.1H458.1zM942.6 232.9H998.1V241.1H942.6zM336.9 240.7H403.4V248.9H336.9zM447.0 240.7H502.5V248.9H447.0zM931.6 240.7H998.1V248.9H931.6zM116.6 248.5H414.4V256.7H116.6zM425.0 248.5H513.5V256.7H425.0zM678.3 248.5H700.7V256.7H678.3zM898.6 248.5H910.0V256.7H898.6zM920.6 248.5H998.1V256.7H920.6zM116.6 256.3H359.3V264.5H116.6zM381.0 256.3H403.4V264.5H381.0zM425.0 256.3H513.5V264.5H425.0zM700.3 256.3H711.8V264.5H700.3zM887.6 256.3H899.0V264.5H887.6zM920.6 256.3H998.1V264.5H920.6zM116.6 264.1H359.3V272.3H116.6zM425.0 264.1H513.5V272.3H425.0zM656.3 264.1H689.7V272.3H656.3zM722.4 264.1H733.8V272.3H722.4zM876.6 264.1H888.0V272.3H876.6zM931.6 264.1H998.1V272.3H931.6zM116.6 271.9H359.3V280.1H116.6zM436.0 271.9H491.5V280.1H436.0zM502.1 271.9H513.5V280.1H502.1zM678.3 271.9H689.7V280.1H678.3zM711.4 271.9H722.8V280.1H711.4zM931.6 271.9H943.0V280.1H931.6zM953.6 271.9H998.1V280.1H953.6zM116.6 279.7H359.3V287.9H116.6zM436.0 279.7H480.5V287.9H436.0zM876.6 279.7H888.0V287.9H876.6zM964.7 279.7H998.1V287.9H964.7zM116.6 287.5H348.3V295.7H116.6zM425.0 287.5H480.5V295.7H425.0zM865.5 287.5H877.0V295.7H865.5zM942.6 287.5H954.0V295.7H942.6zM116.6 295.3H348.3V303.5H116.6zM403.0 295.3H414.4V303.5H403.0zM436.0 295.3H469.5V303.5H436.0zM854.5 295.3H865.9V303.5H854.5zM116.6 303.1H348.3V311.3H116.6zM436.0 303.1H458.5V311.3H436.0zM843.5 303.1H854.9V311.3H843.5zM116.6 310.9H359.3V319.1H116.6zM369.9 310.9H381.4V319.1H369.9zM469.1 310.9H480.5V319.1H469.1zM689.3 310.9H700.7V319.1H689.3zM821.5 310.9H832.9V319.1H821.5zM876.6 310.9H888.0V319.1H876.6zM116.6 318.7H359.3V326.9H116.6zM392.0 318.7H403.4V326.9H392.0zM436.0 318.7H458.5V326.9H436.0zM678.3 318.7H689.7V326.9H678.3zM832.5 318.7H843.9V326.9H832.5zM116.6 326.5H348.3V334.7H116.6zM381.0 326.5H392.4V334.7H381.0zM436.0 326.5H447.4V334.7H436.0zM116.6 334.3H348.3V342.5H116.6zM116.6 342.1H183.1V350.3H116.6zM204.8 342.1H359.3V350.3H204.8zM369.9 342.1H381.4V350.3H369.9zM557.2 342.1H568.6V350.3H557.2zM821.5 342.1H832.9V350.3H821.5zM116.6 349.9H183.1V358.1H116.6zM204.8 349.9H370.3V358.1H204.8zM403.0 349.9H414.4V358.1H403.0zM447.0 349.9H458.5V358.1H447.0zM116.6 357.7H161.1V365.9H116.6zM226.8 357.7H381.4V365.9H226.8zM392.0 357.7H403.4V365.9H392.0zM116.6 365.5H161.1V373.7H116.6zM226.8 365.5H392.4V373.7H226.8zM909.6 365.5H921.0V373.7H909.6zM116.6 373.3H403.4V381.5H116.6zM865.5 373.3H877.0V381.5H865.5zM116.6 381.1H161.1V389.4H116.6zM226.8 381.1H403.4V389.4H226.8zM116.6 389.0H150.1V397.2H116.6zM237.8 389.0H282.2V397.2H237.8zM314.9 389.0H403.4V397.2H314.9zM568.2 389.0H579.6V397.2H568.2zM854.5 389.0H865.9V397.2H854.5zM116.6 396.8H150.1V405.0H116.6zM237.8 396.8H271.2V405.0H237.8zM281.8 396.8H293.3V405.0H281.8zM325.9 396.8H414.4V405.0H325.9zM116.6 404.6H150.1V412.8H116.6zM237.8 404.6H249.2V412.8H237.8zM325.9 404.6H436.4V412.8H325.9zM116.6 412.4H150.1V420.6H116.6zM292.9 412.4H304.3V420.6H292.9zM325.9 412.4H425.4V420.6H325.9zM436.0 412.4H447.4V420.6H436.0zM887.6 412.4H899.0V420.6H887.6zM920.6 412.4H932.0V420.6H920.6zM116.6 420.2H150.1V428.4H116.6zM325.9 420.2H447.4V428.4H325.9zM160.7 428.0H172.1V436.2H160.7zM325.9 428.0H458.5V436.2H325.9zM480.1 428.0H502.5V436.2H480.1zM634.3 428.0H645.7V436.2H634.3zM832.5 428.0H854.9V436.2H832.5zM887.6 428.0H899.0V436.2H887.6zM237.8 435.8H249.2V444.0H237.8zM325.9 435.8H524.5V444.0H325.9zM590.2 435.8H601.6V444.0H590.2zM634.3 435.8H645.7V444.0H634.3zM832.5 435.8H843.9V444.0H832.5zM226.8 443.6H238.2V451.8H226.8zM325.9 443.6H502.5V451.8H325.9zM579.2 443.6H590.6V451.8H579.2zM678.3 443.6H700.7V451.8H678.3zM314.9 451.4H513.5V459.6H314.9zM557.2 451.4H568.6V459.6H557.2zM579.2 451.4H612.6V459.6H579.2zM645.3 451.4H667.7V459.6H645.3zM116.6 459.2H139.1V467.4H116.6zM149.7 459.2H172.1V467.4H149.7zM248.8 459.2H271.2V467.4H248.8zM292.9 459.2H524.5V467.4H292.9zM568.2 459.2H601.6V467.4H568.2zM612.2 459.2H623.7V467.4H612.2zM645.3 459.2H667.7V467.4H645.3zM788.5 459.2H799.9V467.4H788.5zM854.5 459.2H865.9V467.4H854.5zM116.6 467.0H172.1V475.2H116.6zM226.8 467.0H535.5V475.2H226.8zM557.2 467.0H689.7V475.2H557.2zM116.6 474.8H183.1V483.0H116.6zM204.8 474.8H216.2V483.0H204.8zM226.8 474.8H546.6V483.0H226.8zM557.2 474.8H612.6V483.0H557.2zM116.6 482.6H546.6V490.8H116.6zM557.2 482.6H601.6V490.8H557.2zM843.5 482.6H854.9V490.8H843.5zM116.6 490.4H546.6V498.6H116.6zM579.2 490.4H590.6V498.6H579.2zM116.6 498.2H513.5V506.4H116.6zM524.1 498.2H535.5V506.4H524.1zM678.3 498.2H689.7V506.4H678.3zM116.6 506.0H513.5V514.2H116.6zM116.6 513.8H502.5V522.0H116.6zM116.6 521.6H480.5V529.8H116.6zM116.6 529.4H403.4V537.6H116.6zM425.0 529.4H480.5V537.6H425.0zM502.1 529.4H513.5V537.6H502.1zM116.6 537.2H381.4V545.5H116.6zM447.0 537.2H458.5V545.5H447.0zM116.6 545.1H370.3V553.3H116.6zM447.0 545.1H458.5V553.3H447.0zM116.6 552.9H381.4V561.1H116.6zM436.0 552.9H447.4V561.1H436.0zM744.4 552.9H755.8V561.1H744.4zM116.6 560.7H381.4V568.9H116.6zM700.3 560.7H711.8V568.9H700.3zM898.6 560.7H910.0V568.9H898.6zM116.6 568.5H381.4V576.7H116.6zM469.1 568.5H480.5V576.7H469.1zM854.5 568.5H865.9V576.7H854.5zM116.6 576.3H381.4V584.5H116.6zM392.0 576.3H403.4V584.5H392.0zM425.0 576.3H436.4V584.5H425.0zM557.2 576.3H568.6V584.5H557.2zM579.2 576.3H590.6V584.5H579.2zM854.5 576.3H865.9V584.5H854.5zM964.7 576.3H998.1V584.5H964.7zM116.6 584.1H392.4V592.3H116.6zM436.0 584.1H447.4V592.3H436.0zM469.1 584.1H491.5V592.3H469.1zM557.2 584.1H568.6V592.3H557.2zM854.5 584.1H865.9V592.3H854.5zM116.6 591.9H392.4V600.1H116.6zM843.5 591.9H854.9V600.1H843.5zM116.6 599.7H381.4V607.9H116.6zM458.1 599.7H469.5V607.9H458.1zM116.6 607.5H370.3V615.7H116.6zM436.0 607.5H447.4V615.7H436.0zM755.4 607.5H766.8V615.7H755.4zM832.5 607.5H843.9V615.7H832.5zM116.6 615.3H370.3V623.5H116.6zM436.0 615.3H447.4V623.5H436.0zM116.6 623.1H381.4V631.3H116.6zM458.1 623.1H480.5V631.3H458.1zM193.7 630.9H392.4V639.1H193.7zM447.0 630.9H469.5V639.1H447.0zM513.1 630.9H524.5V639.1H513.1zM204.8 638.7H392.4V646.9H204.8zM447.0 638.7H469.5V646.9H447.0zM215.8 646.5H403.4V654.7H215.8zM601.2 646.5H612.6V654.7H601.2zM215.8 654.3H414.4V662.5H215.8zM667.3 654.3H678.7V662.5H667.3zM204.8 662.1H425.4V670.3H204.8zM513.1 662.1H524.5V670.3H513.1zM733.4 662.1H744.8V670.3H733.4zM215.8 669.9H436.4V678.1H215.8zM513.1 669.9H524.5V678.1H513.1zM623.3 669.9H634.7V678.1H623.3zM678.3 669.9H689.7V678.1H678.3zM733.4 669.9H744.8V678.1H733.4zM204.8 677.7H447.4V685.9H204.8zM513.1 677.7H535.5V685.9H513.1zM579.2 677.7H590.6V685.9H579.2zM623.3 677.7H634.7V685.9H623.3zM733.4 677.7H744.8V685.9H733.4zM116.6 685.5H172.1V693.7H116.6zM193.7 685.5H447.4V693.7H193.7zM513.1 685.5H524.5V693.7H513.1zM590.2 685.5H601.6V693.7H590.2zM733.4 685.5H744.8V693.7H733.4zM116.6 693.3H447.4V701.6H116.6zM513.1 693.3H524.5V701.6H513.1zM601.2 693.3H612.6V701.6H601.2zM689.3 693.3H700.7V701.6H689.3zM116.6 701.2H458.5V709.4H116.6zM502.1 701.2H535.5V709.4H502.1zM612.2 701.2H645.7V709.4H612.2zM116.6 709.0H436.4V717.2H116.6zM458.1 709.0H469.5V717.2H458.1zM491.1 709.0H502.5V717.2H491.1zM513.1 709.0H535.5V717.2H513.1zM634.3 709.0H645.7V717.2H634.3zM711.4 709.0H722.8V717.2H711.4zM513.1 716.8H524.5V725.0H513.1zM645.3 716.8H656.7V725.0H645.3zM733.4 716.8H744.8V725.0H733.4zM524.1 724.6H535.5V732.8H524.1zM645.3 724.6H667.7V732.8H645.3zM722.4 724.6H755.8V732.8H722.4zM535.1 732.4H546.6V740.6H535.1zM557.2 732.4H568.6V740.6H557.2zM656.3 732.4H678.7V740.6H656.3zM722.4 732.4H766.8V740.6H722.4zM546.2 740.2H557.6V748.4H546.2zM568.2 740.2H579.6V748.4H568.2zM645.3 740.2H656.7V748.4H645.3zM678.3 740.2H689.7V748.4H678.3zM711.4 740.2H755.8V748.4H711.4zM766.4 740.2H777.8V748.4H766.4zM590.2 748.0H612.6V756.2H590.2zM777.4 748.0H788.9V756.2H777.4zM810.5 755.8H821.9V764.0H810.5zM843.5 763.6H854.9V771.8H843.5zM854.5 771.4H877.0V779.6H854.5zM898.6 771.4H910.0V779.6H898.6zM854.5 779.2H877.0V787.4H854.5zM843.5 787.0H899.0V795.2H843.5zM843.5 794.8H899.0V803.0H843.5zM843.5 802.6H899.0V810.8H843.5z"/>
<path fill="#9e9e94" d="M700.3 123.6H733.8V131.8H700.3zM700.3 131.4H722.8V139.6H700.3zM700.3 139.2H722.8V147.4H700.3zM689.3 147.0H700.7V155.2H689.3zM722.4 147.0H733.8V155.2H722.4zM689.3 154.8H700.7V163.0H689.3zM722.4 154.8H733.8V163.0H722.4zM656.3 162.6H667.7V170.8H656.3zM645.3 170.4H656.7V178.6H645.3zM612.2 178.2H623.7V186.4H612.2zM568.2 193.8H579.6V202.0H568.2zM557.2 209.4H568.6V217.6H557.2zM491.1 217.2H513.5V225.4H491.1zM524.1 217.2H546.6V225.4H524.1zM458.1 225.0H469.5V233.3H458.1zM502.1 225.0H513.5V233.3H502.1zM116.6 232.9H304.3V241.1H116.6zM325.9 232.9H337.3V241.1H325.9zM403.0 232.9H414.4V241.1H403.0zM436.0 232.9H447.4V241.1H436.0zM303.9 240.7H326.3V248.9H303.9zM414.0 240.7H436.4V248.9H414.0zM689.3 264.1H711.8V272.3H689.3zM898.6 264.1H921.0V272.3H898.6zM645.3 271.9H656.7V280.1H645.3zM667.3 271.9H678.7V280.1H667.3zM689.3 271.9H711.8V280.1H689.3zM887.6 271.9H899.0V280.1H887.6zM920.6 271.9H932.0V280.1H920.6zM689.3 279.7H700.7V287.9H689.3zM887.6 279.7H899.0V287.9H887.6zM369.9 287.5H381.4V295.7H369.9zM678.3 287.5H689.7V295.7H678.3zM887.6 287.5H899.0V295.7H887.6zM931.6 287.5H943.0V295.7H931.6zM369.9 295.3H381.4V303.5H369.9zM414.0 295.3H425.4V303.5H414.0zM513.1 295.3H524.5V303.5H513.1zM876.6 295.3H888.0V303.5H876.6zM942.6 295.3H954.0V303.5H942.6zM358.9 303.1H370.3V311.3H358.9zM403.0 303.1H414.4V311.3H403.0zM623.3 303.1H634.7V311.3H623.3zM876.6 303.1H888.0V311.3H876.6zM909.6 303.1H921.0V311.3H909.6zM931.6 303.1H943.0V311.3H931.6zM403.0 310.9H414.4V319.1H403.0zM480.1 310.9H491.5V319.1H480.1zM557.2 310.9H568.6V319.1H557.2zM590.2 310.9H601.6V319.1H590.2zM645.3 310.9H656.7V319.1H645.3zM843.5 310.9H865.9V319.1H843.5zM403.0 318.7H425.4V326.9H403.0zM458.1 318.7H469.5V326.9H458.1zM601.2 318.7H623.7V326.9H601.2zM854.5 318.7H865.9V326.9H854.5zM392.0 326.5H403.4V334.7H392.0zM414.0 326.5H425.4V334.7H414.0zM491.1 326.5H502.5V334.7H491.1zM557.2 326.5H568.6V334.7H557.2zM854.5 326.5H865.9V334.7H854.5zM381.0 334.3H392.4V342.5H381.0zM645.3 334.3H667.7V342.5H645.3zM425.0 342.1H436.4V350.3H425.0zM744.4 342.1H755.8V350.3H744.4zM810.5 342.1H821.9V350.3H810.5zM832.5 342.1H843.9V350.3H832.5zM381.0 349.9H392.4V358.1H381.0zM414.0 357.7H425.4V365.9H414.0zM414.0 365.5H425.4V373.7H414.0zM755.4 365.5H777.8V373.7H755.4zM810.5 365.5H821.9V373.7H810.5zM414.0 373.3H425.4V381.5H414.0zM447.0 381.1H458.5V389.4H447.0zM292.9 389.0H315.3V397.2H292.9zM292.9 396.8H304.3V405.0H292.9zM292.9 404.6H304.3V412.8H292.9zM436.0 404.6H447.4V412.8H436.0zM303.9 412.4H315.3V420.6H303.9zM579.2 412.4H590.6V420.6H579.2zM480.1 420.2H502.5V428.4H480.1zM579.2 420.2H590.6V428.4H579.2zM568.2 428.0H590.6V436.2H568.2zM601.2 428.0H612.6V436.2H601.2zM821.5 428.0H832.9V436.2H821.5zM854.5 428.0H865.9V436.2H854.5zM303.9 435.8H315.3V444.0H303.9zM524.1 435.8H535.5V444.0H524.1zM568.2 435.8H579.6V444.0H568.2zM876.6 435.8H888.0V444.0H876.6zM303.9 443.6H315.3V451.8H303.9zM513.1 443.6H524.5V451.8H513.1zM557.2 443.6H579.6V451.8H557.2zM645.3 443.6H656.7V451.8H645.3zM832.5 443.6H843.9V451.8H832.5zM898.6 443.6H910.0V451.8H898.6zM193.7 451.4H205.2V459.6H193.7zM171.7 459.2H183.1V467.4H171.7zM821.5 459.2H832.9V467.4H821.5zM182.7 467.0H194.1V475.2H182.7zM667.3 506.0H678.7V514.2H667.3zM876.6 529.4H888.0V537.6H876.6zM898.6 552.9H910.0V561.1H898.6zM777.4 560.7H788.9V568.9H777.4zM733.4 568.5H744.8V576.7H733.4zM469.1 576.3H480.5V584.5H469.1zM568.2 576.3H579.6V584.5H568.2zM568.2 584.1H590.6V592.3H568.2zM623.3 584.1H634.7V592.3H623.3zM447.0 591.9H458.5V600.1H447.0zM909.6 591.9H921.0V600.1H909.6zM392.0 599.7H403.4V607.9H392.0zM766.4 599.7H777.8V607.9H766.4zM810.5 599.7H821.9V607.9H810.5zM425.0 607.5H436.4V615.7H425.0zM821.5 607.5H832.9V615.7H821.5zM854.5 607.5H865.9V615.7H854.5zM447.0 615.3H458.5V623.5H447.0zM854.5 615.3H865.9V623.5H854.5zM392.0 623.1H403.4V631.3H392.0zM480.1 623.1H491.5V631.3H480.1zM502.1 623.1H513.5V631.3H502.1zM832.5 623.1H865.9V631.3H832.5zM436.0 630.9H447.4V639.1H436.0zM469.1 630.9H480.5V639.1H469.1zM601.2 630.9H612.6V639.1H601.2zM854.5 630.9H865.9V639.1H854.5zM116.6 638.7H205.2V646.9H116.6zM403.0 638.7H414.4V646.9H403.0zM436.0 638.7H447.4V646.9H436.0zM656.3 638.7H667.7V646.9H656.3zM854.5 638.7H865.9V646.9H854.5zM193.7 646.5H205.2V654.7H193.7zM414.0 646.5H425.4V654.7H414.0zM436.0 646.5H447.4V654.7H436.0zM733.4 646.5H744.8V654.7H733.4zM116.6 654.3H172.1V662.5H116.6zM193.7 654.3H205.2V662.5H193.7zM425.0 654.3H469.5V662.5H425.0zM502.1 654.3H524.5V662.5H502.1zM116.6 662.1H183.1V670.3H116.6zM193.7 662.1H205.2V670.3H193.7zM436.0 662.1H502.5V670.3H436.0zM623.3 662.1H634.7V670.3H623.3zM667.3 662.1H678.7V670.3H667.3zM843.5 662.1H854.9V670.3H843.5zM116.6 669.9H172.1V678.1H116.6zM193.7 669.9H205.2V678.1H193.7zM447.0 669.9H502.5V678.1H447.0zM843.5 669.9H854.9V678.1H843.5zM116.6 677.7H194.1V685.9H116.6zM447.0 677.7H491.5V685.9H447.0zM502.1 677.7H513.5V685.9H502.1zM447.0 685.5H513.5V693.7H447.0zM579.2 685.5H590.6V693.7H579.2zM634.3 685.5H645.7V693.7H634.3zM678.3 685.5H689.7V693.7H678.3zM744.4 685.5H755.8V693.7H744.4zM458.1 693.3H502.5V701.6H458.1zM590.2 693.3H601.6V701.6H590.2zM645.3 693.3H656.7V701.6H645.3zM469.1 701.2H491.5V709.4H469.1zM535.1 701.2H546.6V709.4H535.1zM601.2 701.2H612.6V709.4H601.2zM645.3 701.2H656.7V709.4H645.3zM755.4 701.2H766.8V709.4H755.4zM546.2 709.0H557.6V717.2H546.2zM612.2 709.0H623.7V717.2H612.2zM656.3 709.0H667.7V717.2H656.3zM535.1 716.8H568.6V725.0H535.1zM623.3 716.8H634.7V725.0H623.3zM667.3 716.8H678.7V725.0H667.3zM546.2 724.6H557.6V732.8H546.2zM568.2 724.6H579.6V732.8H568.2zM634.3 724.6H645.7V732.8H634.3zM678.3 724.6H689.7V732.8H678.3zM766.4 724.6H777.8V732.8H766.4zM579.2 732.4H590.6V740.6H579.2zM634.3 732.4H645.7V740.6H634.3zM689.3 732.4H711.8V740.6H689.3zM777.4 732.4H788.9V740.6H777.4zM590.2 740.2H601.6V748.4H590.2zM788.5 740.2H799.9V748.4H788.5zM810.5 748.0H854.9V756.2H810.5zM865.5 763.6H888.0V771.8H865.5zM898.6 763.6H910.0V771.8H898.6z"/>
<path fill="#94949f" d="M865.5 123.6H998.1V131.8H865.5zM865.5 131.4H998.1V139.6H865.5zM865.5 139.2H998.1V147.4H865.5zM876.6 147.0H998.1V155.2H876.6zM876.6 154.8H932.0V163.0H876.6zM678.3 170.4H689.7V178.6H678.3zM744.4 170.4H821.9V178.6H744.4zM832.5 170.4H854.9V178.6H832.5zM656.3 178.2H678.7V186.4H656.3zM689.3 178.2H832.9V186.4H689.3zM634.3 186.0H645.7V194.2H634.3zM700.3 186.0H821.9V194.2H700.3zM689.3 193.8H810.9V202.0H689.3zM942.6 193.8H954.0V202.0H942.6zM590.2 201.6H612.6V209.8H590.2zM689.3 201.6H799.9V209.8H689.3zM942.6 201.6H998.1V209.8H942.6zM579.2 209.4H590.6V217.6H579.2zM689.3 209.4H788.9V217.6H689.3zM920.6 209.4H998.1V217.6H920.6zM689.3 217.2H777.8V225.4H689.3zM909.6 217.2H998.1V225.4H909.6zM546.2 225.0H568.6V233.3H546.2zM689.3 225.0H766.8V233.3H689.3zM909.6 225.0H998.1V233.3H909.6zM524.1 232.9H535.5V241.1H524.1zM678.3 232.9H755.8V241.1H678.3zM898.6 232.9H932.0V241.1H898.6zM513.1 240.7H524.5V248.9H513.1zM667.3 240.7H678.7V248.9H667.3zM700.3 240.7H755.8V248.9H700.3zM887.6 240.7H921.0V248.9H887.6zM513.1 248.5H524.5V256.7H513.1zM711.4 248.5H722.8V256.7H711.4zM733.4 248.5H755.8V256.7H733.4zM876.6 248.5H888.0V256.7H876.6zM722.4 256.3H744.8V264.5H722.4zM865.5 256.3H877.0V264.5H865.5zM358.9 264.1H414.4V272.3H358.9zM524.1 264.1H535.5V272.3H524.1zM854.5 264.1H865.9V272.3H854.5zM369.9 271.9H392.4V280.1H369.9zM414.0 271.9H425.4V280.1H414.0zM513.1 271.9H524.5V280.1H513.1zM733.4 271.9H744.8V280.1H733.4zM854.5 271.9H865.9V280.1H854.5zM381.0 279.7H392.4V287.9H381.0zM414.0 279.7H425.4V287.9H414.0zM711.4 279.7H722.8V287.9H711.4zM854.5 279.7H865.9V287.9H854.5zM403.0 287.5H414.4V295.7H403.0zM513.1 287.5H524.5V295.7H513.1zM843.5 287.5H865.9V295.7H843.5zM392.0 295.3H403.4V303.5H392.0zM832.5 295.3H843.9V303.5H832.5zM381.0 303.1H403.4V311.3H381.0zM469.1 303.1H502.5V311.3H469.1zM513.1 303.1H524.5V311.3H513.1zM821.5 303.1H832.9V311.3H821.5zM392.0 310.9H403.4V319.1H392.0zM502.1 310.9H513.5V319.1H502.1zM601.2 310.9H612.6V319.1H601.2zM711.4 310.9H722.8V319.1H711.4zM381.0 318.7H392.4V326.9H381.0zM502.1 318.7H513.5V326.9H502.1zM821.5 318.7H832.9V326.9H821.5zM358.9 326.5H381.4V334.7H358.9zM502.1 326.5H513.5V334.7H502.1zM535.1 326.5H557.6V334.7H535.1zM634.3 326.5H645.7V334.7H634.3zM667.3 326.5H678.7V334.7H667.3zM832.5 326.5H843.9V334.7H832.5zM358.9 334.3H370.3V342.5H358.9zM502.1 334.3H513.5V342.5H502.1zM480.1 342.1H491.5V350.3H480.1zM502.1 342.1H513.5V350.3H502.1zM733.4 342.1H744.8V350.3H733.4zM535.1 349.9H546.6V358.1H535.1zM876.6 365.5H888.0V373.7H876.6zM171.7 389.0H183.1V397.2H171.7zM204.8 389.0H216.2V397.2H204.8zM259.8 404.6H271.2V412.8H259.8zM281.8 404.6H293.3V412.8H281.8zM854.5 404.6H865.9V412.8H854.5zM171.7 412.4H183.1V420.6H171.7zM204.8 412.4H216.2V420.6H204.8zM623.3 412.4H634.7V420.6H623.3zM237.8 420.2H249.2V428.4H237.8zM832.5 420.2H843.9V428.4H832.5zM887.6 420.2H899.0V428.4H887.6zM237.8 428.0H249.2V436.2H237.8zM502.1 428.0H513.5V436.2H502.1zM116.6 435.8H172.1V444.0H116.6zM248.8 435.8H260.2V444.0H248.8zM116.6 443.6H183.1V451.8H116.6zM204.8 443.6H216.2V451.8H204.8zM601.2 443.6H612.6V451.8H601.2zM920.6 443.6H932.0V451.8H920.6zM226.8 451.4H238.2V459.6H226.8zM259.8 451.4H271.2V459.6H259.8zM634.3 451.4H645.7V459.6H634.3zM755.4 451.4H766.8V459.6H755.4zM920.6 451.4H932.0V459.6H920.6zM226.8 459.2H238.2V467.4H226.8zM535.1 459.2H557.6V467.4H535.1zM634.3 459.2H645.7V467.4H634.3zM678.3 459.2H689.7V467.4H678.3zM920.6 459.2H932.0V467.4H920.6zM689.3 467.0H700.7V475.2H689.3zM678.3 474.8H689.7V483.0H678.3zM821.5 474.8H832.9V483.0H821.5zM942.6 474.8H954.0V483.0H942.6zM612.2 482.6H623.7V490.8H612.2zM601.2 490.4H612.6V498.6H601.2zM667.3 490.4H678.7V498.6H667.3zM579.2 498.2H601.6V506.4H579.2zM535.1 506.0H546.6V514.2H535.1zM678.3 506.0H689.7V514.2H678.3zM513.1 529.4H524.5V537.6H513.1zM502.1 537.2H513.5V545.5H502.1zM392.0 545.1H403.4V553.3H392.0zM425.0 545.1H436.4V553.3H425.0zM447.0 552.9H458.5V561.1H447.0zM755.4 552.9H766.8V561.1H755.4zM436.0 560.7H447.4V568.9H436.0zM854.5 560.7H865.9V568.9H854.5zM381.0 568.5H392.4V576.7H381.0zM414.0 568.5H436.4V576.7H414.0zM821.5 568.5H832.9V576.7H821.5zM942.6 568.5H965.1V576.7H942.6zM436.0 576.3H447.4V584.5H436.0zM458.1 576.3H469.5V584.5H458.1zM700.3 576.3H711.8V584.5H700.3zM491.1 584.1H502.5V592.3H491.1zM909.6 584.1H921.0V592.3H909.6zM942.6 584.1H998.1V592.3H942.6zM469.1 615.3H491.5V623.5H469.1zM942.6 615.3H998.1V623.5H942.6zM667.3 646.5H678.7V654.7H667.3zM722.4 646.5H733.8V654.7H722.4zM568.2 654.3H579.6V662.5H568.2zM601.2 654.3H612.6V662.5H601.2zM612.2 662.1H623.7V670.3H612.2zM689.3 669.9H700.7V678.1H689.3zM601.2 685.5H612.6V693.7H601.2zM722.4 685.5H733.8V693.7H722.4zM711.4 693.3H733.8V701.6H711.4zM722.4 701.2H733.8V709.4H722.4zM722.4 709.0H733.8V717.2H722.4zM314.9 716.8H326.3V725.0H314.9zM369.9 716.8H458.5V725.0H369.9zM491.1 716.8H502.5V725.0H491.1zM314.9 724.6H337.3V732.8H314.9zM369.9 724.6H469.5V732.8H369.9zM502.1 724.6H513.5V732.8H502.1zM513.1 732.4H524.5V740.6H513.1zM524.1 740.2H535.5V748.4H524.1zM546.2 748.0H579.6V756.2H546.2zM656.3 748.0H678.7V756.2H656.3zM755.4 748.0H766.8V756.2H755.4zM656.3 755.8H678.7V764.0H656.3zM766.4 755.8H777.8V764.0H766.4zM777.4 763.6H821.9V771.8H777.4zM777.4 771.4H821.9V779.6H777.4zM832.5 771.4H843.9V779.6H832.5zM777.4 779.2H843.9V787.4H777.4zM777.4 787.0H832.9V795.2H777.4zM777.4 794.8H843.9V803.0H777.4zM777.4 802.6H843.9V810.8H777.4z"/>
<path fill="#97979c" d="M854.5 139.2H865.9V147.4H854.5zM865.5 147.0H877.0V155.2H865.5zM865.5 154.8H877.0V163.0H865.5zM931.6 154.8H998.1V163.0H931.6zM744.4 162.6H766.8V170.8H744.4zM854.5 162.6H865.9V170.8H854.5zM667.3 170.4H678.7V178.6H667.3zM689.3 170.4H744.8V178.6H689.3zM821.5 170.4H832.9V178.6H821.5zM645.3 178.2H656.7V186.4H645.3zM623.3 186.0H634.7V194.2H623.3zM612.2 193.8H623.7V202.0H612.2zM579.2 201.6H590.6V209.8H579.2zM568.2 217.2H579.6V225.4H568.2zM535.1 225.0H546.6V233.3H535.1zM513.1 232.9H524.5V241.1H513.1zM931.6 232.9H943.0V241.1H931.6zM502.1 240.7H513.5V248.9H502.1zM678.3 240.7H700.7V248.9H678.3zM920.6 240.7H932.0V248.9H920.6zM667.3 248.5H678.7V256.7H667.3zM700.3 248.5H711.8V256.7H700.3zM887.6 248.5H899.0V256.7H887.6zM909.6 248.5H921.0V256.7H909.6zM358.9 256.3H381.4V264.5H358.9zM403.0 256.3H425.4V264.5H403.0zM513.1 256.3H524.5V264.5H513.1zM667.3 256.3H678.7V264.5H667.3zM711.4 256.3H722.8V264.5H711.4zM876.6 256.3H888.0V264.5H876.6zM414.0 264.1H425.4V272.3H414.0zM513.1 264.1H524.5V272.3H513.1zM645.3 264.1H656.7V272.3H645.3zM733.4 264.1H744.8V272.3H733.4zM865.5 264.1H877.0V272.3H865.5zM358.9 271.9H370.3V280.1H358.9zM425.0 271.9H436.4V280.1H425.0zM722.4 271.9H733.8V280.1H722.4zM865.5 271.9H877.0V280.1H865.5zM942.6 271.9H954.0V280.1H942.6zM425.0 279.7H436.4V287.9H425.0zM502.1 279.7H513.5V287.9H502.1zM865.5 279.7H877.0V287.9H865.5zM942.6 279.7H965.1V287.9H942.6zM381.0 287.5H392.4V295.7H381.0zM414.0 287.5H425.4V295.7H414.0zM480.1 287.5H513.5V295.7H480.1zM579.2 287.5H590.6V295.7H579.2zM634.3 287.5H645.7V295.7H634.3zM381.0 295.3H392.4V303.5H381.0zM469.1 295.3H480.5V303.5H469.1zM502.1 295.3H513.5V303.5H502.1zM568.2 295.3H579.6V303.5H568.2zM590.2 295.3H601.6V303.5H590.2zM843.5 295.3H854.9V303.5H843.5zM458.1 303.1H469.5V311.3H458.1zM502.1 303.1H513.5V311.3H502.1zM667.3 303.1H689.7V311.3H667.3zM832.5 303.1H843.9V311.3H832.5zM436.0 310.9H469.5V319.1H436.0zM546.2 310.9H557.6V319.1H546.2zM612.2 310.9H623.7V319.1H612.2zM358.9 318.7H381.4V326.9H358.9zM865.5 318.7H877.0V326.9H865.5zM347.9 326.5H359.3V334.7H347.9zM513.1 326.5H535.5V334.7H513.1zM898.6 326.5H910.0V334.7H898.6zM347.9 334.3H359.3V342.5H347.9zM369.9 334.3H381.4V342.5H369.9zM436.0 334.3H458.5V342.5H436.0zM557.2 334.3H568.6V342.5H557.2zM832.5 334.3H843.9V342.5H832.5zM898.6 334.3H910.0V342.5H898.6zM182.7 342.1H205.2V350.3H182.7zM358.9 342.1H370.3V350.3H358.9zM436.0 342.1H447.4V350.3H436.0zM160.7 357.7H172.1V365.9H160.7zM215.8 357.7H227.2V365.9H215.8zM403.0 357.7H414.4V365.9H403.0zM667.3 357.7H689.7V365.9H667.3zM160.7 365.5H172.1V373.7H160.7zM215.8 365.5H227.2V373.7H215.8zM392.0 365.5H414.4V373.7H392.0zM678.3 365.5H689.7V373.7H678.3zM403.0 373.3H414.4V381.5H403.0zM171.7 381.1H183.1V389.4H171.7zM204.8 381.1H216.2V389.4H204.8zM403.0 381.1H414.4V389.4H403.0zM810.5 381.1H821.9V389.4H810.5zM403.0 389.0H414.4V397.2H403.0zM270.8 396.8H282.2V405.0H270.8zM248.8 404.6H260.2V412.8H248.8zM237.8 412.4H249.2V420.6H237.8zM425.0 412.4H436.4V420.6H425.0zM171.7 420.2H183.1V428.4H171.7zM204.8 420.2H216.2V428.4H204.8zM292.9 420.2H304.3V428.4H292.9zM502.1 420.2H513.5V428.4H502.1zM524.1 420.2H535.5V428.4H524.1zM116.6 428.0H161.1V436.2H116.6zM171.7 428.0H183.1V436.2H171.7zM204.8 428.0H216.2V436.2H204.8zM458.1 428.0H480.5V436.2H458.1zM524.1 428.0H535.5V436.2H524.1zM612.2 428.0H623.7V436.2H612.2zM204.8 435.8H216.2V444.0H204.8zM601.2 435.8H612.6V444.0H601.2zM711.4 435.8H722.8V444.0H711.4zM215.8 443.6H227.2V451.8H215.8zM590.2 443.6H601.6V451.8H590.2zM634.3 443.6H645.7V451.8H634.3zM116.6 451.4H172.1V459.6H116.6zM292.9 451.4H304.3V459.6H292.9zM535.1 451.4H557.6V459.6H535.1zM612.2 451.4H623.7V459.6H612.2zM667.3 451.4H678.7V459.6H667.3zM744.4 451.4H755.8V459.6H744.4zM270.8 459.2H293.3V467.4H270.8zM524.1 459.2H535.5V467.4H524.1zM557.2 459.2H568.6V467.4H557.2zM623.3 459.2H634.7V467.4H623.3zM667.3 459.2H678.7V467.4H667.3zM766.4 459.2H777.8V467.4H766.4zM204.8 467.0H227.2V475.2H204.8zM535.1 467.0H557.6V475.2H535.1zM777.4 467.0H788.9V475.2H777.4zM182.7 474.8H205.2V483.0H182.7zM612.2 474.8H678.7V483.0H612.2zM854.5 474.8H865.9V483.0H854.5zM601.2 482.6H612.6V490.8H601.2zM546.2 490.4H579.6V498.6H546.2zM590.2 490.4H601.6V498.6H590.2zM535.1 498.2H546.6V506.4H535.1zM513.1 506.0H535.5V514.2H513.1zM502.1 513.8H513.5V522.0H502.1zM502.1 521.6H513.5V529.8H502.1zM403.0 529.4H425.4V537.6H403.0zM392.0 537.2H403.4V545.5H392.0zM425.0 537.2H436.4V545.5H425.0zM458.1 537.2H502.5V545.5H458.1zM381.0 560.7H392.4V568.9H381.0zM810.5 568.5H821.9V576.7H810.5zM381.0 576.3H392.4V584.5H381.0zM755.4 576.3H766.8V584.5H755.4zM898.6 576.3H910.0V584.5H898.6zM931.6 576.3H943.0V584.5H931.6zM447.0 584.1H469.5V592.3H447.0zM832.5 584.1H843.9V592.3H832.5zM458.1 591.9H469.5V600.1H458.1zM381.0 599.7H392.4V607.9H381.0zM369.9 607.5H392.4V615.7H369.9zM744.4 607.5H755.8V615.7H744.4zM843.5 607.5H854.9V615.7H843.5zM369.9 615.3H392.4V623.5H369.9zM491.1 615.3H502.5V623.5H491.1zM832.5 615.3H854.9V623.5H832.5zM931.6 615.3H943.0V623.5H931.6zM381.0 623.1H392.4V631.3H381.0zM579.2 669.9H590.6V678.1H579.2zM689.3 677.7H700.7V685.9H689.3zM623.3 685.5H634.7V693.7H623.3zM689.3 685.5H700.7V693.7H689.3zM612.2 693.3H634.7V701.6H612.2zM700.3 693.3H711.8V701.6H700.3zM733.4 693.3H744.8V701.6H733.4zM711.4 701.2H722.8V709.4H711.4zM733.4 701.2H744.8V709.4H733.4zM436.0 709.0H458.5V717.2H436.0zM502.1 709.0H513.5V717.2H502.1zM733.4 709.0H744.8V717.2H733.4zM116.6 716.8H315.3V725.0H116.6zM325.9 716.8H370.3V725.0H325.9zM458.1 716.8H491.5V725.0H458.1zM502.1 716.8H513.5V725.0H502.1zM722.4 716.8H733.8V725.0H722.4zM513.1 724.6H524.5V732.8H513.1zM524.1 732.4H535.5V740.6H524.1zM535.1 740.2H546.6V748.4H535.1zM557.2 740.2H568.6V748.4H557.2zM656.3 740.2H678.7V748.4H656.3zM755.4 740.2H766.8V748.4H755.4zM579.2 748.0H590.6V756.2H579.2zM612.2 748.0H656.7V756.2H612.2zM678.3 748.0H755.8V756.2H678.3zM766.4 748.0H777.8V756.2H766.4zM777.4 755.8H810.9V764.0H777.4zM821.5 763.6H843.9V771.8H821.5zM843.5 771.4H854.9V779.6H843.5zM876.6 771.4H899.0V779.6H876.6zM843.5 779.2H854.9V787.4H843.5zM876.6 779.2H899.0V787.4H876.6zM832.5 787.0H843.9V795.2H832.5z"/>
<path fill="#cccc63" d="M491.1 147.0H502.5V155.2H491.1zM480.1 154.8H502.5V163.0H480.1zM645.3 357.7H656.7V365.9H645.3zM535.1 373.3H546.6V381.5H535.1zM590.2 373.3H601.6V381.5H590.2zM634.3 373.3H645.7V381.5H634.3zM766.4 381.1H777.8V389.4H766.4zM623.3 389.0H634.7V397.2H623.3zM667.3 389.0H678.7V397.2H667.3zM777.4 389.0H788.9V397.2H777.4zM590.2 396.8H601.6V405.0H590.2zM656.3 396.8H667.7V405.0H656.3zM601.2 412.4H612.6V420.6H601.2zM799.5 420.2H810.9V428.4H799.5zM865.5 560.7H877.0V568.9H865.5zM788.5 591.9H799.9V600.1H788.5z"/>
<path fill="#b1b17f" d="M623.3 147.0H634.7V155.2H623.3zM623.3 154.8H634.7V163.0H623.3zM612.2 162.6H623.7V170.8H612.2zM557.2 178.2H568.6V186.4H557.2zM513.1 186.0H524.5V194.2H513.1zM634.3 303.1H645.7V311.3H634.3zM469.1 326.5H480.5V334.7H469.1zM568.2 326.5H579.6V334.7H568.2zM700.3 334.3H711.8V342.5H700.3zM700.3 342.1H711.8V350.3H700.3zM436.0 357.7H458.5V365.9H436.0zM689.3 357.7H700.7V365.9H689.3zM799.5 357.7H810.9V365.9H799.5zM689.3 373.3H700.7V381.5H689.3zM744.4 373.3H755.8V381.5H744.4zM480.1 381.1H491.5V389.4H480.1zM579.2 396.8H590.6V405.0H579.2zM744.4 396.8H755.8V405.0H744.4zM766.4 412.4H777.8V420.6H766.4zM557.2 420.2H568.6V428.4H557.2zM645.3 420.2H656.7V428.4H645.3zM766.4 420.2H777.8V428.4H766.4zM645.3 428.0H656.7V436.2H645.3zM667.3 428.0H678.7V436.2H667.3zM755.4 435.8H766.8V444.0H755.4zM777.4 435.8H799.9V444.0H777.4zM843.5 435.8H854.9V444.0H843.5zM744.4 443.6H755.8V451.8H744.4zM766.4 576.3H777.8V584.5H766.4zM887.6 576.3H899.0V584.5H887.6zM766.4 584.1H777.8V592.3H766.4zM887.6 584.1H899.0V592.3H887.6zM623.3 591.9H634.7V600.1H623.3zM898.6 591.9H910.0V600.1H898.6zM634.3 599.7H645.7V607.9H634.3zM623.3 615.3H634.7V623.5H623.3zM733.4 615.3H744.8V623.5H733.4zM744.4 623.1H755.8V631.3H744.4zM799.5 630.9H810.9V639.1H799.5zM612.2 638.7H623.7V646.9H612.2zM788.5 638.7H799.9V646.9H788.5zM887.6 638.7H899.0V646.9H887.6zM909.6 638.7H921.0V646.9H909.6zM909.6 646.5H921.0V654.7H909.6zM546.2 662.1H557.6V670.3H546.2zM645.3 662.1H656.7V670.3H645.3zM920.6 662.1H943.0V670.3H920.6zM964.7 662.1H987.1V670.3H964.7zM920.6 669.9H943.0V678.1H920.6z"/>
<path fill="#c5c56b" d="M502.1 162.6H513.5V170.8H502.1zM579.2 326.5H590.6V334.7H579.2zM689.3 334.3H700.7V342.5H689.3zM568.2 342.1H579.6V350.3H568.2zM656.3 342.1H667.7V350.3H656.3zM502.1 365.5H513.5V373.7H502.1zM634.3 365.5H645.7V373.7H634.3zM513.1 373.3H524.5V381.5H513.1zM777.4 373.3H788.9V381.5H777.4zM579.2 381.1H601.6V389.4H579.2zM689.3 381.1H700.7V389.4H689.3zM656.3 389.0H667.7V397.2H656.3zM645.3 396.8H656.7V405.0H645.3zM733.4 404.6H744.8V412.8H733.4zM546.2 412.4H557.6V420.6H546.2zM656.3 412.4H678.7V420.6H656.3zM744.4 428.0H755.8V436.2H744.4zM931.6 435.8H943.0V444.0H931.6zM953.6 443.6H965.1V451.8H953.6zM777.4 591.9H788.9V600.1H777.4zM623.3 623.1H634.7V631.3H623.3z"/>
<path fill="#acac84" d="M623.3 162.6H634.7V170.8H623.3zM590.2 170.4H601.6V178.6H590.2zM579.2 178.2H590.6V186.4H579.2zM546.2 186.0H557.6V194.2H546.2zM656.3 279.7H667.7V287.9H656.3zM480.1 326.5H491.5V334.7H480.1zM469.1 334.3H480.5V342.5H469.1zM513.1 334.3H524.5V342.5H513.1zM623.3 349.9H634.7V358.1H623.3zM557.2 357.7H568.6V365.9H557.2zM733.4 357.7H744.8V365.9H733.4zM821.5 357.7H832.9V365.9H821.5zM689.3 365.5H700.7V373.7H689.3zM469.1 381.1H480.5V389.4H469.1zM491.1 381.1H502.5V389.4H491.1zM744.4 381.1H755.8V389.4H744.4zM865.5 381.1H877.0V389.4H865.5zM909.6 381.1H921.0V389.4H909.6zM513.1 396.8H524.5V405.0H513.1zM821.5 404.6H832.9V412.8H821.5zM590.2 412.4H601.6V420.6H590.2zM645.3 412.4H656.7V420.6H645.3zM535.1 420.2H546.6V428.4H535.1zM821.5 420.2H832.9V428.4H821.5zM700.3 428.0H711.8V436.2H700.3zM656.3 435.8H667.7V444.0H656.3zM777.4 443.6H788.9V451.8H777.4zM931.6 451.4H943.0V459.6H931.6zM964.7 459.2H998.1V467.4H964.7zM843.5 467.0H854.9V475.2H843.5zM799.5 599.7H810.9V607.9H799.5zM403.0 607.5H425.4V615.7H403.0zM623.3 607.5H634.7V615.7H623.3zM865.5 607.5H877.0V615.7H865.5zM909.6 607.5H921.0V615.7H909.6zM403.0 615.3H425.4V623.5H403.0zM601.2 615.3H612.6V623.5H601.2zM711.4 615.3H722.8V623.5H711.4zM766.4 615.3H777.8V623.5H766.4zM909.6 615.3H921.0V623.5H909.6zM909.6 623.1H921.0V631.3H909.6zM777.4 630.9H788.9V639.1H777.4zM810.5 630.9H821.9V639.1H810.5zM909.6 630.9H921.0V639.1H909.6zM546.2 638.7H557.6V646.9H546.2zM920.6 638.7H932.0V646.9H920.6zM634.3 646.5H645.7V654.7H634.3zM788.5 646.5H799.9V654.7H788.5zM931.6 654.3H998.1V662.5H931.6zM656.3 662.1H667.7V670.3H656.3zM909.6 662.1H921.0V670.3H909.6zM656.3 669.9H667.7V678.1H656.3zM799.5 669.9H821.9V678.1H799.5zM909.6 669.9H921.0V678.1H909.6zM656.3 677.7H667.7V685.9H656.3zM799.5 677.7H821.9V685.9H799.5zM920.6 677.7H932.0V685.9H920.6zM942.6 685.5H998.1V693.7H942.6zM942.6 693.3H998.1V701.6H942.6zM920.6 701.2H998.1V709.4H920.6zM821.5 709.0H843.9V717.2H821.5zM865.5 709.0H888.0V717.2H865.5zM909.6 709.0H921.0V717.2H909.6zM931.6 709.0H998.1V717.2H931.6zM821.5 716.8H832.9V725.0H821.5zM843.5 716.8H854.9V725.0H843.5zM865.5 716.8H888.0V725.0H865.5zM909.6 716.8H998.1V725.0H909.6zM843.5 724.6H998.1V732.8H843.5zM876.6 732.4H998.1V740.6H876.6zM898.6 740.2H998.1V748.4H898.6zM898.6 748.0H998.1V756.2H898.6z"/>
<path fill="#a8a88a" d="M634.3 162.6H645.7V170.8H634.3zM546.2 193.8H557.6V202.0H546.2zM480.1 209.4H491.5V217.6H480.1zM909.6 287.5H921.0V295.7H909.6zM909.6 295.3H932.0V303.5H909.6zM579.2 303.1H590.6V311.3H579.2zM634.3 310.9H645.7V319.1H634.3zM480.1 318.7H491.5V326.9H480.1zM634.3 342.1H645.7V350.3H634.3zM843.5 342.1H854.9V350.3H843.5zM667.3 349.9H678.7V358.1H667.3zM491.1 357.7H502.5V365.9H491.1zM535.1 357.7H546.6V365.9H535.1zM777.4 357.7H788.9V365.9H777.4zM700.3 365.5H711.8V373.7H700.3zM436.0 373.3H447.4V381.5H436.0zM656.3 373.3H667.7V381.5H656.3zM678.3 373.3H689.7V381.5H678.3zM469.1 389.0H491.5V397.2H469.1zM502.1 389.0H513.5V397.2H502.1zM447.0 396.8H469.5V405.0H447.0zM458.1 404.6H469.5V412.8H458.1zM876.6 420.2H888.0V428.4H876.6zM920.6 420.2H932.0V428.4H920.6zM535.1 428.0H546.6V436.2H535.1zM557.2 428.0H568.6V436.2H557.2zM689.3 428.0H700.7V436.2H689.3zM920.6 428.0H932.0V436.2H920.6zM535.1 435.8H557.6V444.0H535.1zM645.3 435.8H656.7V444.0H645.3zM667.3 435.8H678.7V444.0H667.3zM788.5 443.6H799.9V451.8H788.5zM832.5 451.4H843.9V459.6H832.5zM843.5 474.8H854.9V483.0H843.5zM865.5 529.4H877.0V537.6H865.5zM799.5 568.5H810.9V576.7H799.5zM821.5 584.1H832.9V592.3H821.5zM403.0 599.7H414.4V607.9H403.0zM909.6 599.7H921.0V607.9H909.6zM634.3 607.5H645.7V615.7H634.3zM656.3 607.5H667.7V615.7H656.3zM766.4 607.5H777.8V615.7H766.4zM656.3 615.3H667.7V623.5H656.3zM744.4 615.3H755.8V623.5H744.4zM865.5 615.3H877.0V623.5H865.5zM403.0 623.1H425.4V631.3H403.0zM766.4 623.1H777.8V631.3H766.4zM491.1 630.9H502.5V639.1H491.1zM733.4 630.9H744.8V639.1H733.4zM755.4 630.9H766.8V639.1H755.4zM821.5 630.9H832.9V639.1H821.5zM942.6 630.9H965.1V639.1H942.6zM975.7 630.9H998.1V639.1H975.7zM480.1 638.7H502.5V646.9H480.1zM766.4 638.7H777.8V646.9H766.4zM810.5 638.7H832.9V646.9H810.5zM931.6 638.7H943.0V646.9H931.6zM766.4 646.5H777.8V654.7H766.4zM876.6 646.5H888.0V654.7H876.6zM964.7 646.5H998.1V654.7H964.7zM557.2 654.3H568.6V662.5H557.2zM656.3 654.3H667.7V662.5H656.3zM777.4 654.3H788.9V662.5H777.4zM898.6 654.3H910.0V662.5H898.6zM557.2 662.1H568.6V670.3H557.2zM634.3 662.1H645.7V670.3H634.3zM810.5 662.1H821.9V670.3H810.5zM557.2 669.9H568.6V678.1H557.2zM821.5 669.9H832.9V678.1H821.5zM788.5 677.7H799.9V685.9H788.5zM656.3 685.5H667.7V693.7H656.3zM832.5 701.2H843.9V709.4H832.5zM909.6 701.2H921.0V709.4H909.6zM843.5 709.0H865.9V717.2H843.5zM887.6 709.0H899.0V717.2H887.6zM821.5 724.6H832.9V732.8H821.5zM854.5 732.4H865.9V740.6H854.5zM887.6 755.8H910.0V764.0H887.6z"/>
<path fill="#a3a38f" d="M645.3 162.6H656.7V170.8H645.3zM623.3 170.4H634.7V178.6H623.3zM579.2 186.0H590.6V194.2H579.2zM557.2 193.8H568.6V202.0H557.2zM491.1 209.4H502.5V217.6H491.1zM524.1 209.4H535.5V217.6H524.1zM469.1 217.2H480.5V225.4H469.1zM667.3 279.7H678.7V287.9H667.3zM909.6 279.7H921.0V287.9H909.6zM898.6 287.5H910.0V295.7H898.6zM898.6 295.3H910.0V303.5H898.6zM931.6 295.3H943.0V303.5H931.6zM656.3 303.1H667.7V311.3H656.3zM568.2 310.9H579.6V319.1H568.2zM469.1 318.7H480.5V326.9H469.1zM623.3 318.7H634.7V326.9H623.3zM843.5 326.5H854.9V334.7H843.5zM392.0 334.3H403.4V342.5H392.0zM667.3 334.3H678.7V342.5H667.3zM623.3 342.1H634.7V350.3H623.3zM425.0 349.9H447.4V358.1H425.0zM502.1 349.9H513.5V358.1H502.1zM678.3 349.9H689.7V358.1H678.3zM832.5 349.9H843.9V358.1H832.5zM182.7 357.7H205.2V365.9H182.7zM546.2 357.7H557.6V365.9H546.2zM182.7 365.5H205.2V373.7H182.7zM667.3 373.3H678.7V381.5H667.3zM887.6 373.3H899.0V381.5H887.6zM920.6 373.3H932.0V381.5H920.6zM425.0 381.1H447.4V389.4H425.0zM898.6 381.1H910.0V389.4H898.6zM425.0 389.0H436.4V397.2H425.0zM447.0 389.0H469.5V397.2H447.0zM832.5 389.0H843.9V397.2H832.5zM887.6 389.0H899.0V397.2H887.6zM480.1 396.8H491.5V405.0H480.1zM579.2 404.6H590.6V412.8H579.2zM458.1 412.4H491.5V420.6H458.1zM931.6 412.4H943.0V420.6H931.6zM964.7 412.4H976.1V420.6H964.7zM865.5 428.0H877.0V436.2H865.5zM557.2 435.8H568.6V444.0H557.2zM678.3 435.8H689.7V444.0H678.3zM865.5 435.8H877.0V444.0H865.5zM887.6 435.8H899.0V444.0H887.6zM766.4 443.6H777.8V451.8H766.4zM854.5 451.4H865.9V459.6H854.5zM777.4 459.2H788.9V467.4H777.4zM942.6 467.0H954.0V475.2H942.6zM832.5 474.8H843.9V483.0H832.5zM667.3 498.2H678.7V506.4H667.3zM689.3 560.7H700.7V568.9H689.3zM744.4 560.7H755.8V568.9H744.4zM898.6 584.1H910.0V592.3H898.6zM403.0 591.9H414.4V600.1H403.0zM590.2 591.9H601.6V600.1H590.2zM634.3 591.9H645.7V600.1H634.3zM722.4 591.9H733.8V600.1H722.4zM766.4 591.9H777.8V600.1H766.4zM447.0 599.7H458.5V607.9H447.0zM491.1 623.1H502.5V631.3H491.1zM601.2 623.1H612.6V631.3H601.2zM865.5 623.1H877.0V631.3H865.5zM942.6 623.1H954.0V631.3H942.6zM414.0 630.9H436.4V639.1H414.0zM502.1 630.9H513.5V639.1H502.1zM469.1 638.7H480.5V646.9H469.1zM733.4 638.7H744.8V646.9H733.4zM557.2 646.5H568.6V654.7H557.2zM656.3 646.5H667.7V654.7H656.3zM744.4 646.5H755.8V654.7H744.4zM810.5 646.5H821.9V654.7H810.5zM832.5 646.5H843.9V654.7H832.5zM865.5 646.5H877.0V654.7H865.5zM623.3 654.3H634.7V662.5H623.3zM755.4 654.3H766.8V662.5H755.4zM799.5 654.3H843.9V662.5H799.5zM865.5 654.3H877.0V662.5H865.5zM524.1 662.1H535.5V670.3H524.1zM755.4 662.1H799.9V670.3H755.4zM832.5 662.1H843.9V670.3H832.5zM865.5 662.1H899.0V670.3H865.5zM667.3 669.9H678.7V678.1H667.3zM744.4 669.9H755.8V678.1H744.4zM766.4 669.9H788.9V678.1H766.4zM865.5 669.9H877.0V678.1H865.5zM887.6 669.9H899.0V678.1H887.6zM634.3 677.7H645.7V685.9H634.3zM755.4 677.7H788.9V685.9H755.4zM865.5 677.7H899.0V685.9H865.5zM568.2 685.5H579.6V693.7H568.2zM645.3 685.5H656.7V693.7H645.3zM755.4 685.5H766.8V693.7H755.4zM777.4 685.5H799.9V693.7H777.4zM821.5 685.5H921.0V693.7H821.5zM546.2 693.3H579.6V701.6H546.2zM656.3 693.3H667.7V701.6H656.3zM766.4 693.3H799.9V701.6H766.4zM810.5 693.3H821.9V701.6H810.5zM843.5 693.3H865.9V701.6H843.5zM887.6 693.3H921.0V701.6H887.6zM557.2 701.2H590.6V709.4H557.2zM667.3 701.2H700.7V709.4H667.3zM777.4 701.2H799.9V709.4H777.4zM843.5 701.2H865.9V709.4H843.5zM887.6 701.2H910.0V709.4H887.6zM568.2 709.0H601.6V717.2H568.2zM678.3 709.0H689.7V717.2H678.3zM777.4 709.0H810.9V717.2H777.4zM579.2 716.8H612.6V725.0H579.2zM700.3 716.8H711.8V725.0H700.3zM777.4 716.8H810.9V725.0H777.4zM590.2 724.6H623.7V732.8H590.2zM689.3 724.6H700.7V732.8H689.3zM788.5 724.6H810.9V732.8H788.5zM799.5 732.4H810.9V740.6H799.5zM821.5 740.2H832.9V748.4H821.5zM854.5 740.2H865.9V748.4H854.5zM854.5 748.0H865.9V756.2H854.5zM909.6 763.6H921.0V771.8H909.6zM920.6 771.4H943.0V779.6H920.6zM953.6 771.4H998.1V779.6H953.6zM920.6 779.2H998.1V787.4H920.6zM920.6 787.0H998.1V795.2H920.6zM920.6 794.8H998.1V803.0H920.6zM920.6 802.6H998.1V810.8H920.6z"/>
<path fill="#9292a2" d="M865.5 162.6H943.0V170.8H865.5zM964.7 162.6H998.1V170.8H964.7zM678.3 178.2H689.7V186.4H678.3zM832.5 178.2H843.9V186.4H832.5zM645.3 186.0H656.7V194.2H645.3zM678.3 186.0H700.7V194.2H678.3zM821.5 186.0H832.9V194.2H821.5zM623.3 193.8H634.7V202.0H623.3zM810.5 193.8H821.9V202.0H810.5zM953.6 193.8H998.1V202.0H953.6zM678.3 201.6H689.7V209.8H678.3zM799.5 201.6H810.9V209.8H799.5zM931.6 201.6H943.0V209.8H931.6zM590.2 209.4H601.6V217.6H590.2zM678.3 209.4H689.7V217.6H678.3zM788.5 209.4H799.9V217.6H788.5zM909.6 209.4H921.0V217.6H909.6zM579.2 217.2H590.6V225.4H579.2zM678.3 217.2H689.7V225.4H678.3zM777.4 217.2H788.9V225.4H777.4zM568.2 225.0H579.6V233.3H568.2zM678.3 225.0H689.7V233.3H678.3zM766.4 225.0H777.8V233.3H766.4zM898.6 225.0H910.0V233.3H898.6zM535.1 232.9H568.6V241.1H535.1zM667.3 232.9H678.7V241.1H667.3zM755.4 232.9H766.8V241.1H755.4zM887.6 232.9H899.0V241.1H887.6zM524.1 240.7H535.5V248.9H524.1zM656.3 240.7H667.7V248.9H656.3zM755.4 240.7H766.8V248.9H755.4zM876.6 240.7H888.0V248.9H876.6zM524.1 248.5H535.5V256.7H524.1zM656.3 248.5H667.7V256.7H656.3zM722.4 248.5H733.8V256.7H722.4zM755.4 248.5H766.8V256.7H755.4zM865.5 248.5H877.0V256.7H865.5zM524.1 256.3H535.5V264.5H524.1zM656.3 256.3H667.7V264.5H656.3zM744.4 256.3H755.8V264.5H744.4zM854.5 256.3H865.9V264.5H854.5zM744.4 264.1H755.8V272.3H744.4zM843.5 264.1H854.9V272.3H843.5zM392.0 271.9H414.4V280.1H392.0zM843.5 271.9H854.9V280.1H843.5zM392.0 279.7H414.4V287.9H392.0zM843.5 279.7H854.9V287.9H843.5zM392.0 287.5H403.4V295.7H392.0zM568.2 287.5H579.6V295.7H568.2zM480.1 295.3H502.5V303.5H480.1zM524.1 295.3H535.5V303.5H524.1zM711.4 303.1H722.8V311.3H711.4zM381.0 310.9H392.4V319.1H381.0zM656.3 310.9H667.7V319.1H656.3zM810.5 310.9H821.9V319.1H810.5zM887.6 310.9H899.0V319.1H887.6zM909.6 310.9H943.0V319.1H909.6zM964.7 310.9H998.1V319.1H964.7zM535.1 318.7H546.6V326.9H535.1zM810.5 318.7H821.9V326.9H810.5zM887.6 326.5H899.0V334.7H887.6zM491.1 334.3H502.5V342.5H491.1zM744.4 334.3H755.8V342.5H744.4zM810.5 334.3H821.9V342.5H810.5zM909.6 334.3H921.0V342.5H909.6zM458.1 342.1H469.5V350.3H458.1zM865.5 342.1H877.0V350.3H865.5zM458.1 349.9H469.5V358.1H458.1zM865.5 349.9H877.0V358.1H865.5zM480.1 357.7H491.5V365.9H480.1zM755.4 357.7H766.8V365.9H755.4zM667.3 365.5H678.7V373.7H667.3zM171.7 396.8H183.1V405.0H171.7zM204.8 396.8H216.2V405.0H204.8zM171.7 404.6H183.1V412.8H171.7zM204.8 404.6H216.2V412.8H204.8zM248.8 412.4H260.2V420.6H248.8zM182.7 420.2H205.2V428.4H182.7zM182.7 428.0H205.2V436.2H182.7zM292.9 428.0H304.3V436.2H292.9zM171.7 435.8H183.1V444.0H171.7zM612.2 435.8H623.7V444.0H612.2zM182.7 443.6H205.2V451.8H182.7zM292.9 443.6H304.3V451.8H292.9zM612.2 443.6H634.7V451.8H612.2zM799.5 443.6H810.9V451.8H799.5zM876.6 443.6H888.0V451.8H876.6zM204.8 451.4H216.2V459.6H204.8zM623.3 451.4H634.7V459.6H623.3zM678.3 451.4H700.7V459.6H678.3zM733.4 451.4H744.8V459.6H733.4zM821.5 451.4H832.9V459.6H821.5zM898.6 451.4H910.0V459.6H898.6zM204.8 459.2H216.2V467.4H204.8zM766.4 467.0H777.8V475.2H766.4zM920.6 467.0H932.0V475.2H920.6zM953.6 474.8H998.1V483.0H953.6zM623.3 482.6H634.7V490.8H623.3zM546.2 498.2H557.6V506.4H546.2zM568.2 498.2H579.6V506.4H568.2zM601.2 498.2H612.6V506.4H601.2zM590.2 506.0H601.6V514.2H590.2zM535.1 513.8H546.6V522.0H535.1zM458.1 545.1H469.5V553.3H458.1zM392.0 552.9H403.4V561.1H392.0zM425.0 552.9H436.4V561.1H425.0zM425.0 560.7H436.4V568.9H425.0zM469.1 560.7H480.5V568.9H469.1zM755.4 560.7H766.8V568.9H755.4zM392.0 568.5H414.4V576.7H392.0zM436.0 568.5H447.4V576.7H436.0zM480.1 568.5H491.5V576.7H480.1zM557.2 568.5H579.6V576.7H557.2zM678.3 568.5H689.7V576.7H678.3zM722.4 568.5H733.8V576.7H722.4zM755.4 568.5H766.8V576.7H755.4zM898.6 568.5H910.0V576.7H898.6zM964.7 568.5H998.1V576.7H964.7zM733.4 576.3H744.8V584.5H733.4zM689.3 584.1H700.7V592.3H689.3zM931.6 584.1H943.0V592.3H931.6zM491.1 591.9H502.5V600.1H491.1zM557.2 591.9H590.6V600.1H557.2zM656.3 591.9H667.7V600.1H656.3zM733.4 599.7H744.8V607.9H733.4zM920.6 599.7H932.0V607.9H920.6zM502.1 615.3H513.5V623.5H502.1zM667.3 623.1H678.7V631.3H667.3zM524.1 630.9H535.5V639.1H524.1zM546.2 630.9H568.6V639.1H546.2zM667.3 630.9H678.7V639.1H667.3zM722.4 630.9H733.8V639.1H722.4zM667.3 638.7H678.7V646.9H667.3zM722.4 638.7H733.8V646.9H722.4zM722.4 654.3H733.8V662.5H722.4zM579.2 662.1H590.6V670.3H579.2zM678.3 662.1H700.7V670.3H678.3zM612.2 669.9H623.7V678.1H612.2zM700.3 669.9H711.8V678.1H700.3zM590.2 677.7H601.6V685.9H590.2zM612.2 677.7H623.7V685.9H612.2zM700.3 677.7H711.8V685.9H700.3zM722.4 677.7H733.8V685.9H722.4zM612.2 685.5H623.7V693.7H612.2zM700.3 685.5H722.8V693.7H700.3zM116.6 724.6H293.3V732.8H116.6zM303.9 724.6H315.3V732.8H303.9zM336.9 724.6H370.3V732.8H336.9zM469.1 724.6H502.5V732.8H469.1zM314.9 732.4H326.3V740.6H314.9zM369.9 732.4H480.5V740.6H369.9zM502.1 732.4H513.5V740.6H502.1zM535.1 748.0H546.6V756.2H535.1zM634.3 755.8H656.7V764.0H634.3zM678.3 755.8H700.7V764.0H678.3zM722.4 755.8H766.8V764.0H722.4zM656.3 763.6H678.7V771.8H656.3zM766.4 763.6H777.8V771.8H766.4zM656.3 771.4H678.7V779.6H656.3zM766.4 771.4H777.8V779.6H766.4zM821.5 771.4H832.9V779.6H821.5zM656.3 779.2H678.7V787.4H656.3zM766.4 779.2H777.8V787.4H766.4zM656.3 787.0H678.7V795.2H656.3zM766.4 787.0H777.8V795.2H766.4zM656.3 794.8H678.7V803.0H656.3zM766.4 794.8H777.8V803.0H766.4zM656.3 802.6H678.7V810.8H656.3zM766.4 802.6H777.8V810.8H766.4z"/>
<path fill="#9090a5" d="M942.6 162.6H965.1V170.8H942.6zM854.5 170.4H865.9V178.6H854.5zM843.5 178.2H854.9V186.4H843.5zM656.3 186.0H678.7V194.2H656.3zM832.5 186.0H843.9V194.2H832.5zM634.3 193.8H645.7V202.0H634.3zM678.3 193.8H689.7V202.0H678.3zM821.5 193.8H832.9V202.0H821.5zM612.2 201.6H623.7V209.8H612.2zM810.5 201.6H821.9V209.8H810.5zM601.2 209.4H612.6V217.6H601.2zM799.5 209.4H810.9V217.6H799.5zM590.2 217.2H601.6V225.4H590.2zM788.5 217.2H799.9V225.4H788.5zM898.6 217.2H910.0V225.4H898.6zM579.2 225.0H590.6V233.3H579.2zM777.4 225.0H788.9V233.3H777.4zM887.6 225.0H899.0V233.3H887.6zM568.2 232.9H579.6V241.1H568.2zM766.4 232.9H777.8V241.1H766.4zM876.6 232.9H888.0V241.1H876.6zM535.1 240.7H568.6V248.9H535.1zM865.5 240.7H877.0V248.9H865.5zM535.1 248.5H546.6V256.7H535.1zM557.2 248.5H568.6V256.7H557.2zM535.1 256.3H568.6V264.5H535.1zM755.4 256.3H766.8V264.5H755.4zM843.5 256.3H854.9V264.5H843.5zM535.1 264.1H568.6V272.3H535.1zM832.5 264.1H843.9V272.3H832.5zM524.1 271.9H535.5V280.1H524.1zM744.4 271.9H755.8V280.1H744.4zM832.5 271.9H843.9V280.1H832.5zM513.1 279.7H524.5V287.9H513.1zM568.2 279.7H579.6V287.9H568.2zM722.4 279.7H744.8V287.9H722.4zM832.5 279.7H843.9V287.9H832.5zM711.4 287.5H722.8V295.7H711.4zM832.5 287.5H843.9V295.7H832.5zM711.4 295.3H722.8V303.5H711.4zM678.3 310.9H689.7V319.1H678.3zM898.6 310.9H910.0V319.1H898.6zM942.6 310.9H965.1V319.1H942.6zM711.4 318.7H722.8V326.9H711.4zM876.6 318.7H899.0V326.9H876.6zM909.6 326.5H921.0V334.7H909.6zM942.6 326.5H965.1V334.7H942.6zM535.1 334.3H546.6V342.5H535.1zM887.6 334.3H899.0V342.5H887.6zM909.6 342.1H921.0V350.3H909.6zM469.1 349.9H480.5V358.1H469.1zM491.1 349.9H502.5V358.1H491.1zM777.4 349.9H788.9V358.1H777.4zM469.1 357.7H480.5V365.9H469.1zM843.5 357.7H854.9V365.9H843.5zM722.4 365.5H733.8V373.7H722.4zM920.6 365.5H932.0V373.7H920.6zM810.5 373.3H821.9V381.5H810.5zM182.7 381.1H205.2V389.4H182.7zM843.5 381.1H854.9V389.4H843.5zM568.2 396.8H579.6V405.0H568.2zM832.5 396.8H843.9V405.0H832.5zM270.8 404.6H282.2V412.8H270.8zM281.8 412.4H293.3V420.6H281.8zM634.3 420.2H645.7V428.4H634.3zM898.6 428.0H910.0V436.2H898.6zM193.7 435.8H205.2V444.0H193.7zM292.9 435.8H304.3V444.0H292.9zM623.3 435.8H634.7V444.0H623.3zM810.5 435.8H821.9V444.0H810.5zM259.8 443.6H271.2V451.8H259.8zM722.4 443.6H733.8V451.8H722.4zM215.8 451.4H227.2V459.6H215.8zM887.6 451.4H899.0V459.6H887.6zM689.3 459.2H700.7V467.4H689.3zM788.5 467.0H799.9V475.2H788.5zM898.6 467.0H921.0V475.2H898.6zM931.6 474.8H943.0V483.0H931.6zM634.3 482.6H678.7V490.8H634.3zM832.5 482.6H843.9V490.8H832.5zM612.2 490.4H623.7V498.6H612.2zM557.2 498.2H568.6V506.4H557.2zM546.2 506.0H557.6V514.2H546.2zM579.2 506.0H590.6V514.2H579.2zM513.1 513.8H535.5V522.0H513.1zM546.2 513.8H557.6V522.0H546.2zM513.1 521.6H524.5V529.8H513.1zM942.6 521.6H998.1V529.8H942.6zM931.6 529.4H998.1V537.6H931.6zM403.0 537.2H425.4V545.5H403.0zM513.1 537.2H524.5V545.5H513.1zM854.5 537.2H865.9V545.5H854.5zM469.1 545.1H491.5V553.3H469.1zM854.5 545.1H865.9V553.3H854.5zM458.1 552.9H469.5V561.1H458.1zM689.3 552.9H700.7V561.1H689.3zM854.5 552.9H865.9V561.1H854.5zM392.0 560.7H403.4V568.9H392.0zM447.0 560.7H469.5V568.9H447.0zM678.3 560.7H689.7V568.9H678.3zM766.4 560.7H777.8V568.9H766.4zM458.1 568.5H469.5V576.7H458.1zM711.4 568.5H722.8V576.7H711.4zM931.6 568.5H943.0V576.7H931.6zM447.0 576.3H458.5V584.5H447.0zM678.3 576.3H689.7V584.5H678.3zM755.4 584.1H766.8V592.3H755.4zM920.6 584.1H932.0V592.3H920.6zM502.1 591.9H513.5V600.1H502.1zM920.6 591.9H932.0V600.1H920.6zM491.1 599.7H502.5V607.9H491.1zM590.2 599.7H601.6V607.9H590.2zM491.1 607.5H502.5V615.7H491.1zM667.3 615.3H678.7V623.5H667.3zM700.3 615.3H711.8V623.5H700.3zM711.4 623.1H722.8V631.3H711.4zM535.1 630.9H546.6V639.1H535.1zM590.2 662.1H612.6V670.3H590.2zM700.3 662.1H711.8V670.3H700.3zM722.4 662.1H733.8V670.3H722.4zM590.2 669.9H601.6V678.1H590.2zM722.4 669.9H733.8V678.1H722.4zM601.2 677.7H612.6V685.9H601.2zM711.4 677.7H722.8V685.9H711.4zM292.9 724.6H304.3V732.8H292.9zM325.9 732.4H337.3V740.6H325.9zM358.9 732.4H370.3V740.6H358.9zM480.1 732.4H502.5V740.6H480.1zM513.1 740.2H524.5V748.4H513.1zM590.2 755.8H634.7V764.0H590.2zM700.3 755.8H722.8V764.0H700.3zM678.3 763.6H689.7V771.8H678.3z"/>
<path fill="#bbbb75" d="M513.1 170.4H524.5V178.6H513.1zM546.2 170.4H568.6V178.6H546.2zM502.1 178.2H513.5V186.4H502.1zM491.1 186.0H502.5V194.2H491.1zM568.2 334.3H579.6V342.5H568.2zM612.2 342.1H623.7V350.3H612.2zM513.1 349.9H524.5V358.1H513.1zM502.1 357.7H513.5V365.9H502.1zM656.3 357.7H667.7V365.9H656.3zM546.2 365.5H557.6V373.7H546.2zM777.4 365.5H799.9V373.7H777.4zM502.1 373.3H513.5V381.5H502.1zM722.4 373.3H733.8V381.5H722.4zM568.2 381.1H579.6V389.4H568.2zM601.2 381.1H612.6V389.4H601.2zM667.3 381.1H678.7V389.4H667.3zM733.4 381.1H744.8V389.4H733.4zM832.5 381.1H843.9V389.4H832.5zM876.6 381.1H888.0V389.4H876.6zM623.3 396.8H634.7V405.0H623.3zM590.2 404.6H601.6V412.8H590.2zM865.5 404.6H877.0V412.8H865.5zM777.4 420.2H788.9V428.4H777.4zM656.3 428.0H667.7V436.2H656.3zM788.5 428.0H799.9V436.2H788.5zM942.6 451.4H954.0V459.6H942.6zM711.4 591.9H722.8V600.1H711.4zM887.6 591.9H899.0V600.1H887.6zM612.2 599.7H623.7V607.9H612.2zM898.6 599.7H910.0V607.9H898.6zM722.4 607.5H733.8V615.7H722.4zM777.4 607.5H788.9V615.7H777.4zM898.6 607.5H910.0V615.7H898.6zM788.5 615.3H799.9V623.5H788.5zM898.6 615.3H910.0V623.5H898.6zM887.6 623.1H910.0V631.3H887.6zM612.2 630.9H623.7V639.1H612.2zM623.3 638.7H634.7V646.9H623.3zM546.2 654.3H557.6V662.5H546.2z"/>
<path fill="#8b8baa" d="M865.5 170.4H877.0V178.6H865.5zM887.6 170.4H932.0V178.6H887.6zM854.5 178.2H865.9V186.4H854.5zM843.5 186.0H854.9V194.2H843.5zM964.7 186.0H976.1V194.2H964.7zM832.5 193.8H843.9V202.0H832.5zM623.3 201.6H634.7V209.8H623.3zM656.3 201.6H667.7V209.8H656.3zM821.5 201.6H832.9V209.8H821.5zM612.2 209.4H623.7V217.6H612.2zM810.5 209.4H821.9V217.6H810.5zM898.6 209.4H910.0V217.6H898.6zM601.2 217.2H612.6V225.4H601.2zM667.3 217.2H678.7V225.4H667.3zM799.5 217.2H810.9V225.4H799.5zM887.6 217.2H899.0V225.4H887.6zM590.2 225.0H601.6V233.3H590.2zM788.5 225.0H799.9V233.3H788.5zM876.6 225.0H888.0V233.3H876.6zM579.2 232.9H590.6V241.1H579.2zM777.4 232.9H788.9V241.1H777.4zM865.5 232.9H877.0V241.1H865.5zM854.5 240.7H865.9V248.9H854.5zM645.3 248.5H656.7V256.7H645.3zM843.5 248.5H854.9V256.7H843.5zM766.4 256.3H777.8V264.5H766.4zM832.5 256.3H843.9V264.5H832.5zM634.3 264.1H645.7V272.3H634.3zM755.4 264.1H766.8V272.3H755.4zM821.5 264.1H832.9V272.3H821.5zM557.2 279.7H568.6V287.9H557.2zM524.1 287.5H535.5V295.7H524.1zM590.2 287.5H601.6V295.7H590.2zM722.4 287.5H733.8V295.7H722.4zM722.4 295.3H733.8V303.5H722.4zM524.1 303.1H535.5V311.3H524.1zM557.2 303.1H568.6V311.3H557.2zM733.4 303.1H744.8V311.3H733.4zM810.5 303.1H821.9V311.3H810.5zM722.4 310.9H733.8V319.1H722.4zM645.3 318.7H656.7V326.9H645.3zM667.3 318.7H678.7V326.9H667.3zM909.6 318.7H943.0V326.9H909.6zM865.5 326.5H877.0V334.7H865.5zM920.6 326.5H932.0V334.7H920.6zM733.4 334.3H744.8V342.5H733.4zM920.6 334.3H943.0V342.5H920.6zM898.6 342.1H910.0V350.3H898.6zM920.6 342.1H932.0V350.3H920.6zM766.4 357.7H777.8V365.9H766.4zM865.5 357.7H877.0V365.9H865.5zM711.4 365.5H722.8V373.7H711.4zM843.5 365.5H854.9V373.7H843.5zM865.5 365.5H877.0V373.7H865.5zM854.5 381.1H865.9V389.4H854.5zM259.8 412.4H271.2V420.6H259.8zM634.3 412.4H645.7V420.6H634.3zM832.5 412.4H843.9V420.6H832.5zM281.8 420.2H293.3V428.4H281.8zM821.5 435.8H832.9V444.0H821.5zM700.3 451.4H711.8V459.6H700.3zM865.5 451.4H877.0V459.6H865.5zM909.6 451.4H921.0V459.6H909.6zM865.5 467.0H877.0V475.2H865.5zM887.6 467.0H899.0V475.2H887.6zM766.4 474.8H777.8V483.0H766.4zM898.6 474.8H910.0V483.0H898.6zM623.3 490.4H634.7V498.6H623.3zM733.4 498.2H744.8V506.4H733.4zM557.2 506.0H579.6V514.2H557.2zM733.4 506.0H744.8V514.2H733.4zM942.6 513.8H998.1V522.0H942.6zM524.1 521.6H535.5V529.8H524.1zM579.2 521.6H590.6V529.8H579.2zM920.6 529.4H932.0V537.6H920.6zM931.6 537.2H998.1V545.5H931.6zM491.1 545.1H502.5V553.3H491.1zM579.2 552.9H590.6V561.1H579.2zM733.4 552.9H744.8V561.1H733.4zM766.4 552.9H777.8V561.1H766.4zM414.0 560.7H425.4V568.9H414.0zM480.1 560.7H491.5V568.9H480.1zM799.5 560.7H810.9V568.9H799.5zM821.5 560.7H832.9V568.9H821.5zM579.2 568.5H590.6V576.7H579.2zM744.4 576.3H755.8V584.5H744.4zM832.5 576.3H843.9V584.5H832.5zM909.6 576.3H921.0V584.5H909.6zM469.1 591.9H480.5V600.1H469.1zM469.1 607.5H480.5V615.7H469.1zM667.3 607.5H678.7V615.7H667.3zM931.6 607.5H943.0V615.7H931.6zM678.3 630.9H689.7V639.1H678.3zM568.2 646.5H579.6V654.7H568.2zM590.2 646.5H601.6V654.7H590.2zM711.4 646.5H722.8V654.7H711.4zM689.3 654.3H711.8V662.5H689.3zM303.9 732.4H315.3V740.6H303.9zM336.9 732.4H359.3V740.6H336.9zM314.9 740.2H337.3V748.4H314.9zM392.0 740.2H458.5V748.4H392.0zM480.1 748.0H491.5V756.2H480.1zM546.2 755.8H579.6V764.0H546.2zM634.3 763.6H645.7V771.8H634.3zM689.3 763.6H700.7V771.8H689.3zM744.4 763.6H755.8V771.8H744.4z"/>
<path fill="#8989ad" d="M876.6 170.4H888.0V178.6H876.6zM931.6 170.4H998.1V178.6H931.6zM931.6 186.0H943.0V194.2H931.6zM634.3 201.6H656.7V209.8H634.3zM909.6 201.6H921.0V209.8H909.6zM601.2 225.0H612.6V233.3H601.2zM590.2 232.9H601.6V241.1H590.2zM645.3 232.9H656.7V241.1H645.3zM634.3 240.7H645.7V248.9H634.3zM777.4 240.7H788.9V248.9H777.4zM777.4 248.5H788.9V256.7H777.4zM579.2 256.3H590.6V264.5H579.2zM634.3 256.3H645.7V264.5H634.3zM579.2 264.1H590.6V272.3H579.2zM579.2 271.9H590.6V280.1H579.2zM524.1 279.7H535.5V287.9H524.1zM546.2 279.7H557.6V287.9H546.2zM821.5 279.7H832.9V287.9H821.5zM821.5 287.5H832.9V295.7H821.5zM744.4 303.1H755.8V311.3H744.4zM535.1 310.9H546.6V319.1H535.1zM645.3 326.5H656.7V334.7H645.3zM744.4 326.5H755.8V334.7H744.4zM865.5 334.3H877.0V342.5H865.5zM942.6 334.3H998.1V342.5H942.6zM755.4 342.1H766.8V350.3H755.4zM546.2 349.9H557.6V358.1H546.2zM909.6 349.9H921.0V358.1H909.6zM854.5 357.7H865.9V365.9H854.5zM876.6 357.7H888.0V365.9H876.6zM909.6 357.7H921.0V365.9H909.6zM832.5 404.6H843.9V412.8H832.5zM182.7 412.4H205.2V420.6H182.7zM270.8 412.4H282.2V420.6H270.8zM898.6 412.4H910.0V420.6H898.6zM248.8 420.2H260.2V428.4H248.8zM248.8 428.0H260.2V436.2H248.8zM799.5 451.4H810.9V459.6H799.5zM700.3 459.2H711.8V467.4H700.3zM744.4 459.2H755.8V467.4H744.4zM887.6 459.2H899.0V467.4H887.6zM700.3 467.0H711.8V475.2H700.3zM810.5 467.0H821.9V475.2H810.5zM755.4 474.8H766.8V483.0H755.4zM777.4 474.8H788.9V483.0H777.4zM909.6 474.8H932.0V483.0H909.6zM678.3 482.6H689.7V490.8H678.3zM634.3 490.4H656.7V498.6H634.3zM623.3 498.2H634.7V506.4H623.3zM843.5 498.2H854.9V506.4H843.5zM656.3 506.0H667.7V514.2H656.3zM931.6 513.8H943.0V522.0H931.6zM920.6 521.6H932.0V529.8H920.6zM887.6 537.2H899.0V545.5H887.6zM755.4 545.1H766.8V553.3H755.4zM480.1 552.9H491.5V561.1H480.1zM821.5 552.9H832.9V561.1H821.5zM909.6 552.9H921.0V561.1H909.6zM403.0 560.7H414.4V568.9H403.0zM568.2 560.7H579.6V568.9H568.2zM942.6 560.7H998.1V568.9H942.6zM590.2 568.5H612.6V576.7H590.2zM546.2 576.3H557.6V584.5H546.2zM546.2 584.1H557.6V592.3H546.2zM667.3 584.1H678.7V592.3H667.3zM480.1 591.9H491.5V600.1H480.1zM546.2 591.9H557.6V600.1H546.2zM931.6 591.9H943.0V600.1H931.6zM557.2 599.7H568.6V607.9H557.2zM480.1 607.5H491.5V615.7H480.1zM590.2 607.5H601.6V615.7H590.2zM964.7 607.5H976.1V615.7H964.7zM557.2 623.1H568.6V631.3H557.2zM568.2 630.9H579.6V639.1H568.2zM568.2 638.7H579.6V646.9H568.2zM678.3 638.7H689.7V646.9H678.3zM678.3 646.5H689.7V654.7H678.3zM116.6 732.4H304.3V740.6H116.6zM358.9 740.2H370.3V748.4H358.9zM469.1 748.0H480.5V756.2H469.1zM491.1 748.0H524.5V756.2H491.1zM601.2 763.6H634.7V771.8H601.2zM700.3 763.6H744.8V771.8H700.3zM689.3 779.2H700.7V787.4H689.3zM634.3 787.0H645.7V795.2H634.3zM689.3 787.0H700.7V795.2H689.3zM744.4 787.0H755.8V795.2H744.4zM634.3 794.8H645.7V803.0H634.3zM689.3 794.8H700.7V803.0H689.3zM744.4 794.8H755.8V803.0H744.4zM634.3 802.6H645.7V810.8H634.3zM689.3 802.6H700.7V810.8H689.3zM744.4 802.6H755.8V810.8H744.4z"/>
<path fill="#8484b3" d="M865.5 178.2H877.0V186.4H865.5zM920.6 178.2H932.0V186.4H920.6zM920.6 193.8H932.0V202.0H920.6zM898.6 201.6H910.0V209.8H898.6zM623.3 209.4H634.7V217.6H623.3zM612.2 217.2H623.7V225.4H612.2zM612.2 225.0H623.7V233.3H612.2zM656.3 225.0H667.7V233.3H656.3zM623.3 232.9H634.7V241.1H623.3zM590.2 240.7H623.7V248.9H590.2zM832.5 248.5H843.9V256.7H832.5zM821.5 256.3H832.9V264.5H821.5zM766.4 264.1H777.8V272.3H766.4zM601.2 303.1H623.7V311.3H601.2zM755.4 303.1H766.8V311.3H755.4zM799.5 310.9H810.9V319.1H799.5zM656.3 318.7H667.7V326.9H656.3zM722.4 318.7H733.8V326.9H722.4zM799.5 318.7H810.9V326.9H799.5zM733.4 326.5H744.8V334.7H733.4zM546.2 334.3H557.6V342.5H546.2zM876.6 334.3H888.0V342.5H876.6zM711.4 342.1H722.8V350.3H711.4zM920.6 357.7H932.0V365.9H920.6zM843.5 396.8H854.9V405.0H843.5zM898.6 404.6H921.0V412.8H898.6zM843.5 420.2H854.9V428.4H843.5zM711.4 443.6H722.8V451.8H711.4zM733.4 459.2H744.8V467.4H733.4zM799.5 467.0H810.9V475.2H799.5zM876.6 467.0H888.0V475.2H876.6zM700.3 474.8H711.8V483.0H700.3zM810.5 474.8H821.9V483.0H810.5zM887.6 474.8H899.0V483.0H887.6zM821.5 482.6H832.9V490.8H821.5zM931.6 482.6H943.0V490.8H931.6zM832.5 490.4H843.9V498.6H832.5zM744.4 498.2H755.8V506.4H744.4zM744.4 506.0H755.8V514.2H744.4zM953.6 506.0H998.1V514.2H953.6zM601.2 513.8H612.6V522.0H601.2zM667.3 513.8H678.7V522.0H667.3zM920.6 513.8H932.0V522.0H920.6zM590.2 521.6H601.6V529.8H590.2zM854.5 529.4H865.9V537.6H854.5zM909.6 545.1H921.0V553.3H909.6zM942.6 545.1H998.1V553.3H942.6zM403.0 552.9H425.4V561.1H403.0zM678.3 552.9H689.7V561.1H678.3zM700.3 552.9H711.8V561.1H700.3zM810.5 552.9H821.9V561.1H810.5zM942.6 552.9H954.0V561.1H942.6zM810.5 560.7H821.9V568.9H810.5zM909.6 560.7H921.0V568.9H909.6zM909.6 568.5H921.0V576.7H909.6zM502.1 576.3H513.5V584.5H502.1zM667.3 576.3H678.7V584.5H667.3zM843.5 576.3H854.9V584.5H843.5zM513.1 584.1H524.5V592.3H513.1zM667.3 591.9H678.7V600.1H667.3zM755.4 591.9H766.8V600.1H755.4zM546.2 599.7H557.6V607.9H546.2zM568.2 599.7H579.6V607.9H568.2zM667.3 599.7H678.7V607.9H667.3zM744.4 599.7H755.8V607.9H744.4zM931.6 599.7H943.0V607.9H931.6zM557.2 607.5H568.6V615.7H557.2zM942.6 607.5H954.0V615.7H942.6zM557.2 615.3H568.6V623.5H557.2zM568.2 623.1H579.6V631.3H568.2zM700.3 623.1H711.8V631.3H700.3zM689.3 630.9H700.7V639.1H689.3zM590.2 638.7H601.6V646.9H590.2zM711.4 638.7H722.8V646.9H711.4zM579.2 646.5H590.6V654.7H579.2zM689.3 646.5H711.8V654.7H689.3zM116.6 740.2H304.3V748.4H116.6zM336.9 740.2H359.3V748.4H336.9zM458.1 748.0H469.5V756.2H458.1zM480.1 755.8H502.5V764.0H480.1zM590.2 763.6H601.6V771.8H590.2zM601.2 771.4H612.6V779.6H601.2zM623.3 771.4H634.7V779.6H623.3zM700.3 771.4H744.8V779.6H700.3zM601.2 779.2H612.6V787.4H601.2zM700.3 779.2H711.8V787.4H700.3zM733.4 779.2H744.8V787.4H733.4zM601.2 787.0H612.6V795.2H601.2zM601.2 794.8H612.6V803.0H601.2zM601.2 802.6H612.6V810.8H601.2z"/>
<path fill="#8282b6" d="M876.6 178.2H921.0V186.4H876.6zM854.5 193.8H865.9V202.0H854.5zM843.5 201.6H854.9V209.8H843.5zM887.6 201.6H899.0V209.8H887.6zM634.3 209.4H656.7V217.6H634.3zM832.5 209.4H843.9V217.6H832.5zM876.6 209.4H888.0V217.6H876.6zM656.3 217.2H667.7V225.4H656.3zM821.5 217.2H832.9V225.4H821.5zM865.5 217.2H877.0V225.4H865.5zM810.5 225.0H821.9V233.3H810.5zM854.5 225.0H865.9V233.3H854.5zM799.5 232.9H810.9V241.1H799.5zM843.5 232.9H854.9V241.1H843.5zM788.5 240.7H799.9V248.9H788.5zM832.5 240.7H843.9V248.9H832.5zM590.2 248.5H601.6V256.7H590.2zM623.3 248.5H634.7V256.7H623.3zM788.5 248.5H799.9V256.7H788.5zM799.5 264.1H810.9V272.3H799.5zM590.2 279.7H601.6V287.9H590.2zM810.5 295.3H821.9V303.5H810.5zM744.4 310.9H755.8V319.1H744.4zM733.4 318.7H744.8V326.9H733.4zM711.4 334.3H722.8V342.5H711.4zM755.4 334.3H766.8V342.5H755.4zM788.5 334.3H799.9V342.5H788.5zM931.6 342.1H943.0V350.3H931.6zM766.4 349.9H777.8V358.1H766.4zM931.6 373.3H943.0V381.5H931.6zM931.6 381.1H943.0V389.4H931.6zM182.7 396.8H205.2V405.0H182.7zM898.6 396.8H910.0V405.0H898.6zM182.7 404.6H205.2V412.8H182.7zM259.8 420.2H282.2V428.4H259.8zM281.8 428.0H293.3V436.2H281.8zM810.5 443.6H821.9V451.8H810.5zM711.4 451.4H722.8V459.6H711.4zM810.5 451.4H821.9V459.6H810.5zM711.4 459.2H722.8V467.4H711.4zM876.6 459.2H888.0V467.4H876.6zM744.4 474.8H755.8V483.0H744.4zM788.5 474.8H799.9V483.0H788.5zM942.6 490.4H954.0V498.6H942.6zM634.3 498.2H645.7V506.4H634.3zM942.6 498.2H954.0V506.4H942.6zM623.3 506.0H634.7V514.2H623.3zM931.6 506.0H943.0V514.2H931.6zM546.2 521.6H557.6V529.8H546.2zM568.2 521.6H579.6V529.8H568.2zM524.1 537.2H535.5V545.5H524.1zM744.4 537.2H755.8V545.5H744.4zM590.2 545.1H601.6V553.3H590.2zM810.5 545.1H821.9V553.3H810.5zM920.6 545.1H943.0V553.3H920.6zM777.4 552.9H788.9V561.1H777.4zM832.5 552.9H843.9V561.1H832.5zM953.6 552.9H998.1V561.1H953.6zM546.2 560.7H557.6V568.9H546.2zM920.6 560.7H932.0V568.9H920.6zM491.1 568.5H502.5V576.7H491.1zM513.1 576.3H524.5V584.5H513.1zM480.1 599.7H491.5V607.9H480.1zM579.2 599.7H590.6V607.9H579.2zM964.7 599.7H987.1V607.9H964.7zM513.1 615.3H524.5V623.5H513.1zM590.2 615.3H601.6V623.5H590.2zM689.3 623.1H700.7V631.3H689.3zM711.4 630.9H722.8V639.1H711.4zM689.3 638.7H700.7V646.9H689.3zM303.9 748.0H337.3V756.2H303.9zM358.9 748.0H458.5V756.2H358.9zM502.1 755.8H535.5V764.0H502.1zM568.2 763.6H590.6V771.8H568.2z"/>
<path fill="#8787b0" d="M931.6 178.2H998.1V186.4H931.6zM854.5 186.0H865.9V194.2H854.5zM843.5 193.8H854.9V202.0H843.5zM832.5 201.6H843.9V209.8H832.5zM656.3 209.4H667.7V217.6H656.3zM821.5 209.4H832.9V217.6H821.5zM887.6 209.4H899.0V217.6H887.6zM810.5 217.2H821.9V225.4H810.5zM876.6 217.2H888.0V225.4H876.6zM799.5 225.0H810.9V233.3H799.5zM865.5 225.0H877.0V233.3H865.5zM601.2 232.9H623.7V241.1H601.2zM634.3 232.9H645.7V241.1H634.3zM788.5 232.9H799.9V241.1H788.5zM854.5 232.9H865.9V241.1H854.5zM579.2 240.7H590.6V248.9H579.2zM623.3 240.7H634.7V248.9H623.3zM843.5 240.7H854.9V248.9H843.5zM579.2 248.5H590.6V256.7H579.2zM634.3 248.5H645.7V256.7H634.3zM777.4 256.3H788.9V264.5H777.4zM810.5 264.1H821.9V272.3H810.5zM755.4 271.9H766.8V280.1H755.4zM810.5 271.9H821.9V280.1H810.5zM535.1 279.7H546.6V287.9H535.1zM755.4 279.7H766.8V287.9H755.4zM557.2 287.5H568.6V295.7H557.2zM755.4 287.5H766.8V295.7H755.4zM755.4 295.3H766.8V303.5H755.4zM733.4 310.9H744.8V319.1H733.4zM656.3 326.5H667.7V334.7H656.3zM711.4 326.5H722.8V334.7H711.4zM799.5 326.5H810.9V334.7H799.5zM876.6 326.5H888.0V334.7H876.6zM491.1 342.1H502.5V350.3H491.1zM876.6 342.1H899.0V350.3H876.6zM876.6 349.9H888.0V358.1H876.6zM920.6 349.9H932.0V358.1H920.6zM799.5 373.3H810.9V381.5H799.5zM182.7 389.0H205.2V397.2H182.7zM920.6 389.0H932.0V397.2H920.6zM920.6 404.6H932.0V412.8H920.6zM898.6 420.2H910.0V428.4H898.6zM259.8 435.8H271.2V444.0H259.8zM821.5 443.6H832.9V451.8H821.5zM722.4 451.4H733.8V459.6H722.4zM876.6 451.4H888.0V459.6H876.6zM799.5 459.2H821.9V467.4H799.5zM865.5 459.2H877.0V467.4H865.5zM744.4 467.0H755.8V475.2H744.4zM854.5 482.6H865.9V490.8H854.5zM942.6 482.6H998.1V490.8H942.6zM612.2 506.0H623.7V514.2H612.2zM942.6 506.0H954.0V514.2H942.6zM557.2 513.8H579.6V522.0H557.2zM535.1 521.6H546.6V529.8H535.1zM524.1 529.4H535.5V537.6H524.1zM579.2 529.4H590.6V537.6H579.2zM579.2 537.2H590.6V545.5H579.2zM920.6 537.2H932.0V545.5H920.6zM403.0 545.1H425.4V553.3H403.0zM502.1 545.1H513.5V553.3H502.1zM557.2 560.7H568.6V568.9H557.2zM579.2 560.7H590.6V568.9H579.2zM832.5 560.7H843.9V568.9H832.5zM931.6 560.7H943.0V568.9H931.6zM546.2 568.5H557.6V576.7H546.2zM832.5 568.5H843.9V576.7H832.5zM920.6 568.5H932.0V576.7H920.6zM733.4 584.1H744.8V592.3H733.4zM733.4 591.9H744.8V600.1H733.4zM942.6 591.9H998.1V600.1H942.6zM469.1 599.7H480.5V607.9H469.1zM678.3 599.7H689.7V607.9H678.3zM755.4 599.7H766.8V607.9H755.4zM953.6 607.5H965.1V615.7H953.6zM975.7 607.5H998.1V615.7H975.7zM678.3 623.1H689.7V631.3H678.3zM303.9 740.2H315.3V748.4H303.9zM535.1 755.8H546.6V764.0H535.1zM612.2 771.4H623.7V779.6H612.2zM634.3 771.4H645.7V779.6H634.3zM689.3 771.4H700.7V779.6H689.3zM744.4 771.4H755.8V779.6H744.4zM612.2 779.2H645.7V787.4H612.2zM711.4 779.2H733.8V787.4H711.4zM744.4 779.2H755.8V787.4H744.4zM612.2 787.0H634.7V795.2H612.2zM700.3 787.0H744.8V795.2H700.3zM612.2 794.8H634.7V803.0H612.2zM700.3 794.8H744.8V803.0H700.3zM612.2 802.6H634.7V810.8H612.2zM700.3 802.6H744.8V810.8H700.3z"/>
<path fill="#7f7fb9" d="M865.5 186.0H877.0V194.2H865.5zM920.6 186.0H932.0V194.2H920.6zM909.6 193.8H921.0V202.0H909.6zM623.3 217.2H634.7V225.4H623.3zM623.3 225.0H634.7V233.3H623.3zM645.3 225.0H656.7V233.3H645.3zM590.2 256.3H601.6V264.5H590.2zM623.3 256.3H634.7V264.5H623.3zM788.5 256.3H799.9V264.5H788.5zM777.4 264.1H788.9V272.3H777.4zM810.5 279.7H821.9V287.9H810.5zM535.1 287.5H546.6V295.7H535.1zM557.2 295.3H568.6V303.5H557.2zM535.1 303.1H557.6V311.3H535.1zM799.5 303.1H810.9V311.3H799.5zM513.1 310.9H524.5V319.1H513.1zM513.1 318.7H535.5V326.9H513.1zM744.4 318.7H755.8V326.9H744.4zM898.6 349.9H910.0V358.1H898.6zM898.6 357.7H910.0V365.9H898.6zM854.5 373.3H865.9V381.5H854.5zM909.6 396.8H921.0V405.0H909.6zM931.6 404.6H943.0V412.8H931.6zM259.8 428.0H271.2V436.2H259.8zM281.8 443.6H293.3V451.8H281.8zM722.4 459.2H733.8V467.4H722.4zM733.4 467.0H744.8V475.2H733.4zM799.5 474.8H810.9V483.0H799.5zM865.5 474.8H877.0V483.0H865.5zM689.3 482.6H700.7V490.8H689.3zM898.6 482.6H910.0V490.8H898.6zM953.6 490.4H998.1V498.6H953.6zM645.3 498.2H656.7V506.4H645.3zM722.4 498.2H733.8V506.4H722.4zM832.5 498.2H843.9V506.4H832.5zM953.6 498.2H998.1V506.4H953.6zM843.5 506.0H854.9V514.2H843.5zM568.2 529.4H579.6V537.6H568.2zM733.4 537.2H744.8V545.5H733.4zM513.1 545.1H524.5V553.3H513.1zM733.4 545.1H744.8V553.3H733.4zM491.1 552.9H502.5V561.1H491.1zM568.2 552.9H579.6V561.1H568.2zM590.2 552.9H601.6V561.1H590.2zM788.5 552.9H810.9V561.1H788.5zM920.6 552.9H943.0V561.1H920.6zM722.4 560.7H733.8V568.9H722.4zM535.1 568.5H546.6V576.7H535.1zM524.1 576.3H546.6V584.5H524.1zM623.3 576.3H634.7V584.5H623.3zM656.3 584.1H667.7V592.3H656.3zM513.1 591.9H524.5V600.1H513.1zM942.6 599.7H965.1V607.9H942.6zM986.7 599.7H998.1V607.9H986.7zM524.1 623.1H535.5V631.3H524.1zM590.2 623.1H601.6V631.3H590.2zM590.2 630.9H601.6V639.1H590.2zM700.3 630.9H711.8V639.1H700.3zM700.3 638.7H711.8V646.9H700.3zM116.6 748.0H304.3V756.2H116.6zM336.9 748.0H359.3V756.2H336.9zM469.1 755.8H480.5V764.0H469.1zM557.2 763.6H568.6V771.8H557.2zM590.2 787.0H601.6V795.2H590.2zM590.2 794.8H601.6V803.0H590.2zM590.2 802.6H601.6V810.8H590.2z"/>
<path fill="#7c7cbc" d="M876.6 186.0H910.0V194.2H876.6zM865.5 193.8H910.0V202.0H865.5zM854.5 201.6H865.9V209.8H854.5zM876.6 201.6H888.0V209.8H876.6zM843.5 209.4H854.9V217.6H843.5zM865.5 209.4H877.0V217.6H865.5zM832.5 217.2H843.9V225.4H832.5zM854.5 217.2H865.9V225.4H854.5zM634.3 225.0H645.7V233.3H634.3zM821.5 225.0H832.9V233.3H821.5zM843.5 225.0H854.9V233.3H843.5zM810.5 232.9H843.9V241.1H810.5zM799.5 240.7H810.9V248.9H799.5zM821.5 240.7H832.9V248.9H821.5zM601.2 248.5H623.7V256.7H601.2zM821.5 248.5H832.9V256.7H821.5zM799.5 256.3H821.9V264.5H799.5zM590.2 264.1H601.6V272.3H590.2zM623.3 264.1H634.7V272.3H623.3zM788.5 264.1H799.9V272.3H788.5zM590.2 271.9H601.6V280.1H590.2zM766.4 271.9H777.8V280.1H766.4zM799.5 271.9H810.9V280.1H799.5zM546.2 287.5H557.6V295.7H546.2zM766.4 287.5H777.8V295.7H766.4zM810.5 287.5H821.9V295.7H810.5zM766.4 295.3H777.8V303.5H766.4zM755.4 310.9H766.8V319.1H755.4zM546.2 342.1H557.6V350.3H546.2zM777.4 342.1H788.9V350.3H777.4zM964.7 342.1H998.1V350.3H964.7zM711.4 349.9H722.8V358.1H711.4zM887.6 349.9H899.0V358.1H887.6zM887.6 357.7H899.0V365.9H887.6zM854.5 365.5H865.9V373.7H854.5zM843.5 404.6H854.9V412.8H843.5zM953.6 404.6H998.1V412.8H953.6zM843.5 412.4H854.9V420.6H843.5zM270.8 443.6H282.2V451.8H270.8zM711.4 467.0H722.8V475.2H711.4zM755.4 482.6H766.8V490.8H755.4zM810.5 482.6H821.9V490.8H810.5zM909.6 482.6H932.0V490.8H909.6zM733.4 490.4H744.8V498.6H733.4zM931.6 490.4H943.0V498.6H931.6zM931.6 498.2H943.0V506.4H931.6zM722.4 506.0H733.8V514.2H722.4zM656.3 513.8H667.7V522.0H656.3zM678.3 513.8H689.7V522.0H678.3zM733.4 513.8H744.8V522.0H733.4zM909.6 513.8H921.0V522.0H909.6zM557.2 521.6H568.6V529.8H557.2zM568.2 537.2H579.6V545.5H568.2zM799.5 537.2H810.9V545.5H799.5zM568.2 545.1H579.6V553.3H568.2zM689.3 545.1H700.7V553.3H689.3zM766.4 545.1H777.8V553.3H766.4zM799.5 545.1H810.9V553.3H799.5zM821.5 545.1H832.9V553.3H821.5zM843.5 552.9H854.9V561.1H843.5zM535.1 560.7H546.6V568.9H535.1zM711.4 560.7H722.8V568.9H711.4zM612.2 568.5H623.7V576.7H612.2zM843.5 568.5H854.9V576.7H843.5zM524.1 584.1H546.6V592.3H524.1zM535.1 591.9H546.6V600.1H535.1zM546.2 607.5H557.6V615.7H546.2zM568.2 607.5H579.6V615.7H568.2zM678.3 607.5H689.7V615.7H678.3zM568.2 615.3H579.6V623.5H568.2zM678.3 615.3H700.7V623.5H678.3zM546.2 623.1H557.6V631.3H546.2zM579.2 638.7H590.6V646.9H579.2zM491.1 763.6H513.5V771.8H491.1zM590.2 771.4H601.6V779.6H590.2zM568.2 779.2H579.6V787.4H568.2zM590.2 779.2H601.6V787.4H590.2zM491.1 787.0H513.5V795.2H491.1zM557.2 787.0H590.6V795.2H557.2zM491.1 794.8H513.5V803.0H491.1zM568.2 794.8H590.6V803.0H568.2zM502.1 802.6H513.5V810.8H502.1zM568.2 802.6H590.6V810.8H568.2z"/>
<path fill="#7a79bf" d="M909.6 186.0H921.0V194.2H909.6zM865.5 201.6H877.0V209.8H865.5zM854.5 209.4H865.9V217.6H854.5zM634.3 217.2H656.7V225.4H634.3zM843.5 217.2H854.9V225.4H843.5zM832.5 225.0H843.9V233.3H832.5zM810.5 240.7H821.9V248.9H810.5zM799.5 248.5H810.9V256.7H799.5zM766.4 279.7H777.8V287.9H766.4zM623.3 287.5H634.7V295.7H623.3zM535.1 295.3H546.6V303.5H535.1zM766.4 303.1H777.8V311.3H766.4zM524.1 310.9H535.5V319.1H524.1zM755.4 326.5H766.8V334.7H755.4zM766.4 342.1H777.8V350.3H766.4zM942.6 342.1H965.1V350.3H942.6zM722.4 357.7H733.8V365.9H722.4zM920.6 396.8H932.0V405.0H920.6zM942.6 404.6H954.0V412.8H942.6zM270.8 428.0H282.2V436.2H270.8zM281.8 435.8H293.3V444.0H281.8zM733.4 474.8H744.8V483.0H733.4zM766.4 482.6H777.8V490.8H766.4zM722.4 490.4H733.8V498.6H722.4zM744.4 490.4H755.8V498.6H744.4zM854.5 490.4H865.9V498.6H854.5zM689.3 498.2H700.7V506.4H689.3zM634.3 506.0H656.7V514.2H634.3zM920.6 506.0H932.0V514.2H920.6zM612.2 513.8H623.7V522.0H612.2zM909.6 521.6H921.0V529.8H909.6zM733.4 529.4H744.8V537.6H733.4zM678.3 545.1H689.7V553.3H678.3zM535.1 552.9H557.6V561.1H535.1zM491.1 560.7H502.5V568.9H491.1zM843.5 560.7H854.9V568.9H843.5zM524.1 568.5H535.5V576.7H524.1zM634.3 584.1H645.7V592.3H634.3zM744.4 584.1H755.8V592.3H744.4zM513.1 599.7H524.5V607.9H513.1zM535.1 599.7H546.6V607.9H535.1zM513.1 607.5H524.5V615.7H513.1zM546.2 615.3H557.6V623.5H546.2zM325.9 755.8H370.3V764.0H325.9zM458.1 755.8H469.5V764.0H458.1zM546.2 763.6H557.6V771.8H546.2zM491.1 771.4H513.5V779.6H491.1zM557.2 771.4H590.6V779.6H557.2zM491.1 779.2H513.5V787.4H491.1zM557.2 779.2H568.6V787.4H557.2zM579.2 779.2H590.6V787.4H579.2zM557.2 794.8H568.6V803.0H557.2zM491.1 802.6H502.5V810.8H491.1zM557.2 802.6H568.6V810.8H557.2z"/>
<path fill="#8e8ea8" d="M942.6 186.0H965.1V194.2H942.6zM975.7 186.0H998.1V194.2H975.7zM645.3 193.8H678.7V202.0H645.3zM931.6 193.8H943.0V202.0H931.6zM667.3 201.6H678.7V209.8H667.3zM920.6 201.6H932.0V209.8H920.6zM667.3 209.4H678.7V217.6H667.3zM667.3 225.0H678.7V233.3H667.3zM656.3 232.9H667.7V241.1H656.3zM568.2 240.7H579.6V248.9H568.2zM645.3 240.7H656.7V248.9H645.3zM766.4 240.7H777.8V248.9H766.4zM546.2 248.5H557.6V256.7H546.2zM568.2 248.5H579.6V256.7H568.2zM766.4 248.5H777.8V256.7H766.4zM854.5 248.5H865.9V256.7H854.5zM568.2 256.3H579.6V264.5H568.2zM645.3 256.3H656.7V264.5H645.3zM568.2 264.1H579.6V272.3H568.2zM535.1 271.9H579.6V280.1H535.1zM634.3 271.9H645.7V280.1H634.3zM821.5 271.9H832.9V280.1H821.5zM579.2 279.7H590.6V287.9H579.2zM634.3 279.7H645.7V287.9H634.3zM744.4 279.7H755.8V287.9H744.4zM733.4 287.5H755.8V295.7H733.4zM623.3 295.3H634.7V303.5H623.3zM733.4 295.3H755.8V303.5H733.4zM821.5 295.3H832.9V303.5H821.5zM722.4 303.1H733.8V311.3H722.4zM667.3 310.9H678.7V319.1H667.3zM898.6 318.7H910.0V326.9H898.6zM942.6 318.7H998.1V326.9H942.6zM810.5 326.5H832.9V334.7H810.5zM931.6 326.5H943.0V334.7H931.6zM964.7 326.5H998.1V334.7H964.7zM799.5 334.3H810.9V342.5H799.5zM821.5 334.3H832.9V342.5H821.5zM447.0 342.1H458.5V350.3H447.0zM535.1 342.1H546.6V350.3H535.1zM788.5 342.1H799.9V350.3H788.5zM480.1 349.9H491.5V358.1H480.1zM755.4 349.9H766.8V358.1H755.4zM887.6 365.5H910.0V373.7H887.6zM843.5 373.3H854.9V381.5H843.5zM799.5 381.1H810.9V389.4H799.5zM843.5 389.0H854.9V397.2H843.5zM898.6 389.0H921.0V397.2H898.6zM854.5 412.4H865.9V420.6H854.5zM909.6 412.4H921.0V420.6H909.6zM513.1 420.2H524.5V428.4H513.1zM623.3 420.2H634.7V428.4H623.3zM854.5 420.2H865.9V428.4H854.5zM909.6 420.2H921.0V428.4H909.6zM513.1 428.0H524.5V436.2H513.1zM623.3 428.0H634.7V436.2H623.3zM909.6 428.0H921.0V436.2H909.6zM182.7 435.8H194.1V444.0H182.7zM909.6 435.8H921.0V444.0H909.6zM700.3 443.6H711.8V451.8H700.3zM909.6 443.6H921.0V451.8H909.6zM270.8 451.4H293.3V459.6H270.8zM215.8 459.2H227.2V467.4H215.8zM755.4 459.2H766.8V467.4H755.4zM898.6 459.2H921.0V467.4H898.6zM755.4 467.0H766.8V475.2H755.4zM689.3 474.8H700.7V483.0H689.3zM656.3 490.4H667.7V498.6H656.3zM678.3 490.4H689.7V498.6H678.3zM843.5 490.4H854.9V498.6H843.5zM612.2 498.2H623.7V506.4H612.2zM656.3 498.2H667.7V506.4H656.3zM601.2 506.0H612.6V514.2H601.2zM579.2 513.8H601.6V522.0H579.2zM931.6 521.6H943.0V529.8H931.6zM579.2 545.1H590.6V553.3H579.2zM744.4 545.1H755.8V553.3H744.4zM898.6 545.1H910.0V553.3H898.6zM469.1 552.9H480.5V561.1H469.1zM447.0 568.5H458.5V576.7H447.0zM491.1 576.3H502.5V584.5H491.1zM689.3 576.3H700.7V584.5H689.3zM920.6 576.3H932.0V584.5H920.6zM502.1 584.1H513.5V592.3H502.1zM678.3 584.1H689.7V592.3H678.3zM843.5 584.1H854.9V592.3H843.5zM678.3 591.9H689.7V600.1H678.3zM502.1 599.7H513.5V607.9H502.1zM502.1 607.5H513.5V615.7H502.1zM689.3 607.5H700.7V615.7H689.3zM513.1 623.1H524.5V631.3H513.1zM579.2 654.3H601.6V662.5H579.2zM678.3 654.3H689.7V662.5H678.3zM711.4 654.3H722.8V662.5H711.4zM711.4 662.1H722.8V670.3H711.4zM601.2 669.9H612.6V678.1H601.2zM711.4 669.9H722.8V678.1H711.4zM369.9 740.2H392.4V748.4H369.9zM458.1 740.2H513.5V748.4H458.1zM524.1 748.0H535.5V756.2H524.1zM579.2 755.8H590.6V764.0H579.2zM645.3 763.6H656.7V771.8H645.3zM755.4 763.6H766.8V771.8H755.4zM645.3 771.4H656.7V779.6H645.3zM678.3 771.4H689.7V779.6H678.3zM755.4 771.4H766.8V779.6H755.4zM645.3 779.2H656.7V787.4H645.3zM678.3 779.2H689.7V787.4H678.3zM755.4 779.2H766.8V787.4H755.4zM645.3 787.0H656.7V795.2H645.3zM678.3 787.0H689.7V795.2H678.3zM755.4 787.0H766.8V795.2H755.4zM645.3 794.8H656.7V803.0H645.3zM678.3 794.8H689.7V803.0H678.3zM755.4 794.8H766.8V803.0H755.4zM645.3 802.6H656.7V810.8H645.3zM678.3 802.6H689.7V810.8H678.3zM755.4 802.6H766.8V810.8H755.4z"/>
<path fill="#7776c2" d="M810.5 248.5H821.9V256.7H810.5zM601.2 256.3H623.7V264.5H601.2zM623.3 271.9H634.7V280.1H623.3zM601.2 295.3H612.6V303.5H601.2zM799.5 295.3H810.9V303.5H799.5zM755.4 318.7H766.8V326.9H755.4zM722.4 326.5H733.8V334.7H722.4zM788.5 326.5H799.9V334.7H788.5zM722.4 342.1H733.8V350.3H722.4zM722.4 349.9H733.8V358.1H722.4zM931.6 365.5H943.0V373.7H931.6zM722.4 467.0H733.8V475.2H722.4zM711.4 474.8H722.8V483.0H711.4zM876.6 474.8H888.0V483.0H876.6zM700.3 482.6H711.8V490.8H700.3zM744.4 482.6H755.8V490.8H744.4zM689.3 490.4H700.7V498.6H689.3zM821.5 490.4H832.9V498.6H821.5zM854.5 498.2H865.9V506.4H854.5zM909.6 506.0H921.0V514.2H909.6zM623.3 513.8H645.7V522.0H623.3zM590.2 529.4H601.6V537.6H590.2zM744.4 529.4H755.8V537.6H744.4zM788.5 529.4H799.9V537.6H788.5zM590.2 537.2H601.6V545.5H590.2zM788.5 537.2H799.9V545.5H788.5zM909.6 537.2H921.0V545.5H909.6zM524.1 545.1H535.5V553.3H524.1zM843.5 545.1H854.9V553.3H843.5zM502.1 552.9H513.5V561.1H502.1zM557.2 552.9H568.6V561.1H557.2zM590.2 560.7H601.6V568.9H590.2zM513.1 568.5H524.5V576.7H513.1zM524.1 591.9H535.5V600.1H524.1zM744.4 591.9H755.8V600.1H744.4zM535.1 623.1H546.6V631.3H535.1zM579.2 630.9H590.6V639.1H579.2zM116.6 755.8H326.3V764.0H116.6zM369.9 755.8H458.5V764.0H369.9zM480.1 763.6H491.5V771.8H480.1zM513.1 763.6H524.5V771.8H513.1zM535.1 763.6H546.6V771.8H535.1z"/>
<path fill="#7170c8" d="M601.2 264.1H623.7V272.3H601.2zM623.3 279.7H634.7V287.9H623.3zM799.5 279.7H810.9V287.9H799.5zM546.2 295.3H557.6V303.5H546.2zM612.2 295.3H623.7V303.5H612.2zM788.5 295.3H799.9V303.5H788.5zM766.4 310.9H777.8V319.1H766.4zM722.4 334.3H733.8V342.5H722.4zM766.4 334.3H777.8V342.5H766.4zM986.7 373.3H998.1V381.5H986.7zM986.7 381.1H998.1V389.4H986.7zM931.6 389.0H943.0V397.2H931.6zM722.4 474.8H733.8V483.0H722.4zM722.4 482.6H744.8V490.8H722.4zM788.5 482.6H799.9V490.8H788.5zM887.6 482.6H899.0V490.8H887.6zM711.4 490.4H722.8V498.6H711.4zM755.4 490.4H766.8V498.6H755.4zM909.6 490.4H932.0V498.6H909.6zM821.5 498.2H832.9V506.4H821.5zM909.6 498.2H921.0V506.4H909.6zM689.3 506.0H700.7V514.2H689.3zM722.4 513.8H733.8V522.0H722.4zM898.6 513.8H910.0V522.0H898.6zM656.3 521.6H667.7V529.8H656.3zM557.2 529.4H568.6V537.6H557.2zM887.6 529.4H899.0V537.6H887.6zM535.1 545.1H546.6V553.3H535.1zM700.3 545.1H711.8V553.3H700.3zM777.4 545.1H799.9V553.3H777.4zM513.1 552.9H535.5V561.1H513.1zM722.4 552.9H733.8V561.1H722.4zM535.1 607.5H546.6V615.7H535.1zM579.2 607.5H590.6V615.7H579.2zM524.1 615.3H535.5V623.5H524.1zM579.2 623.1H590.6V631.3H579.2zM314.9 763.6H326.3V771.8H314.9zM358.9 763.6H469.5V771.8H358.9zM325.9 771.4H458.5V779.6H325.9zM480.1 771.4H491.5V779.6H480.1zM546.2 771.4H557.6V779.6H546.2zM325.9 779.2H469.5V787.4H325.9zM325.9 787.0H480.5V795.2H325.9zM535.1 787.0H546.6V795.2H535.1zM325.9 794.8H480.5V803.0H325.9zM325.9 802.6H469.5V810.8H325.9z"/>
<path fill="#6e6dcb" d="M601.2 271.9H612.6V280.1H601.2zM601.2 279.7H612.6V287.9H601.2zM601.2 287.5H612.6V295.7H601.2zM799.5 287.5H810.9V295.7H799.5zM788.5 310.9H799.9V319.1H788.5zM788.5 318.7H799.9V326.9H788.5zM964.7 349.9H987.1V358.1H964.7zM931.6 357.7H943.0V365.9H931.6zM953.6 373.3H965.1V381.5H953.6zM953.6 381.1H965.1V389.4H953.6zM898.6 498.2H910.0V506.4H898.6zM898.6 506.0H910.0V514.2H898.6zM601.2 521.6H612.6V529.8H601.2zM623.3 521.6H634.7V529.8H623.3zM667.3 521.6H678.7V529.8H667.3zM744.4 521.6H755.8V529.8H744.4zM876.6 521.6H888.0V529.8H876.6zM634.3 529.4H656.7V537.6H634.3zM689.3 537.2H700.7V545.5H689.3zM755.4 537.2H766.8V545.5H755.4zM711.4 552.9H722.8V561.1H711.4zM502.1 560.7H524.5V568.9H502.1zM524.1 599.7H535.5V607.9H524.1zM524.1 607.5H535.5V615.7H524.1zM535.1 615.3H546.6V623.5H535.1zM579.2 615.3H590.6V623.5H579.2zM314.9 771.4H326.3V779.6H314.9zM458.1 771.4H480.5V779.6H458.1zM314.9 779.2H326.3V787.4H314.9zM469.1 779.2H480.5V787.4H469.1zM524.1 779.2H546.6V787.4H524.1zM314.9 787.0H326.3V795.2H314.9zM524.1 787.0H535.5V795.2H524.1zM314.9 794.8H326.3V803.0H314.9zM524.1 794.8H546.6V803.0H524.1zM314.9 802.6H326.3V810.8H314.9zM469.1 802.6H480.5V810.8H469.1zM524.1 802.6H546.6V810.8H524.1z"/>
<path fill="#6967d1" d="M612.2 271.9H623.7V280.1H612.2zM788.5 279.7H799.9V287.9H788.5zM788.5 287.5H799.9V295.7H788.5zM777.4 310.9H788.9V319.1H777.4zM942.6 349.9H954.0V358.1H942.6zM975.7 365.5H998.1V373.7H975.7zM964.7 389.0H998.1V397.2H964.7zM964.7 396.8H998.1V405.0H964.7zM755.4 498.2H766.8V506.4H755.4zM810.5 506.0H821.9V514.2H810.5zM722.4 521.6H733.8V529.8H722.4zM656.3 529.4H667.7V537.6H656.3zM810.5 529.4H821.9V537.6H810.5zM557.2 537.2H568.6V545.5H557.2zM843.5 537.2H854.9V545.5H843.5zM722.4 545.1H733.8V553.3H722.4zM667.3 560.7H678.7V568.9H667.3zM281.8 763.6H304.3V771.8H281.8zM303.9 779.2H315.3V787.4H303.9zM303.9 787.0H315.3V795.2H303.9zM303.9 794.8H315.3V803.0H303.9zM303.9 802.6H315.3V810.8H303.9z"/>
<path fill="#7473c5" d="M777.4 271.9H799.9V280.1H777.4zM777.4 295.3H788.9V303.5H777.4zM777.4 303.1H799.9V311.3H777.4zM777.4 334.3H788.9V342.5H777.4zM931.6 349.9H943.0V358.1H931.6zM711.4 357.7H722.8V365.9H711.4zM964.7 373.3H987.1V381.5H964.7zM964.7 381.1H987.1V389.4H964.7zM270.8 435.8H282.2V444.0H270.8zM711.4 482.6H722.8V490.8H711.4zM777.4 482.6H788.9V490.8H777.4zM799.5 482.6H810.9V490.8H799.5zM810.5 490.4H821.9V498.6H810.5zM898.6 490.4H910.0V498.6H898.6zM920.6 498.2H932.0V506.4H920.6zM832.5 506.0H843.9V514.2H832.5zM645.3 513.8H656.7V522.0H645.3zM744.4 513.8H755.8V522.0H744.4zM634.3 521.6H656.7V529.8H634.3zM733.4 521.6H744.8V529.8H733.4zM865.5 521.6H877.0V529.8H865.5zM535.1 529.4H546.6V537.6H535.1zM799.5 529.4H810.9V537.6H799.5zM909.6 529.4H921.0V537.6H909.6zM810.5 537.2H821.9V545.5H810.5zM832.5 545.1H843.9V553.3H832.5zM524.1 560.7H535.5V568.9H524.1zM502.1 568.5H513.5V576.7H502.1zM667.3 568.5H678.7V576.7H667.3zM645.3 584.1H656.7V592.3H645.3zM325.9 763.6H359.3V771.8H325.9zM469.1 763.6H480.5V771.8H469.1zM524.1 763.6H535.5V771.8H524.1zM513.1 771.4H524.5V779.6H513.1zM480.1 779.2H491.5V787.4H480.1zM513.1 779.2H524.5V787.4H513.1zM546.2 779.2H557.6V787.4H546.2zM480.1 787.0H491.5V795.2H480.1zM513.1 787.0H524.5V795.2H513.1zM546.2 787.0H557.6V795.2H546.2zM480.1 794.8H491.5V803.0H480.1zM513.1 794.8H524.5V803.0H513.1zM546.2 794.8H557.6V803.0H546.2zM480.1 802.6H491.5V810.8H480.1zM513.1 802.6H524.5V810.8H513.1zM546.2 802.6H557.6V810.8H546.2z"/>
<path fill="#6664d4" d="M612.2 279.7H623.7V287.9H612.2zM612.2 287.5H623.7V295.7H612.2zM964.7 357.7H998.1V365.9H964.7zM953.6 365.5H965.1V373.7H953.6zM953.6 389.0H965.1V397.2H953.6zM942.6 396.8H965.1V405.0H942.6zM766.4 490.4H777.8V498.6H766.4zM711.4 506.0H722.8V514.2H711.4zM755.4 506.0H766.8V514.2H755.4zM612.2 521.6H623.7V529.8H612.2zM678.3 521.6H689.7V529.8H678.3zM788.5 521.6H799.9V529.8H788.5zM898.6 521.6H910.0V529.8H898.6zM667.3 529.4H678.7V537.6H667.3zM777.4 529.4H788.9V537.6H777.4zM821.5 537.2H832.9V545.5H821.5zM667.3 552.9H678.7V561.1H667.3zM656.3 576.3H667.7V584.5H656.3zM303.9 771.4H315.3V779.6H303.9zM116.6 779.2H282.2V787.4H116.6zM116.6 787.0H304.3V795.2H116.6zM116.6 794.8H304.3V803.0H116.6zM116.6 802.6H304.3V810.8H116.6z"/>
<path fill="#6c6ace" d="M777.4 279.7H788.9V287.9H777.4zM777.4 287.5H788.9V295.7H777.4zM766.4 318.7H777.8V326.9H766.4zM766.4 326.5H788.9V334.7H766.4zM953.6 349.9H965.1V358.1H953.6zM986.7 349.9H998.1V358.1H986.7zM964.7 365.5H976.1V373.7H964.7zM942.6 373.3H954.0V381.5H942.6zM942.6 381.1H954.0V389.4H942.6zM931.6 396.8H943.0V405.0H931.6zM700.3 490.4H711.8V498.6H700.3zM799.5 490.4H810.9V498.6H799.5zM711.4 498.2H722.8V506.4H711.4zM810.5 498.2H821.9V506.4H810.5zM821.5 506.0H832.9V514.2H821.5zM854.5 506.0H865.9V514.2H854.5zM843.5 513.8H854.9V522.0H843.5zM799.5 521.6H810.9V529.8H799.5zM854.5 521.6H865.9V529.8H854.5zM546.2 529.4H557.6V537.6H546.2zM535.1 537.2H546.6V545.5H535.1zM678.3 537.2H689.7V545.5H678.3zM777.4 537.2H788.9V545.5H777.4zM898.6 537.2H910.0V545.5H898.6zM546.2 545.1H568.6V553.3H546.2zM116.6 763.6H282.2V771.8H116.6zM303.9 763.6H315.3V771.8H303.9zM524.1 771.4H546.6V779.6H524.1z"/>
<path fill="#6461d6" d="M777.4 318.7H788.9V326.9H777.4zM953.6 357.7H965.1V365.9H953.6zM942.6 365.5H954.0V373.7H942.6zM942.6 389.0H954.0V397.2H942.6zM865.5 482.6H877.0V490.8H865.5zM700.3 498.2H711.8V506.4H700.3zM799.5 498.2H810.9V506.4H799.5zM689.3 513.8H700.7V522.0H689.3zM711.4 513.8H722.8V522.0H711.4zM810.5 513.8H821.9V522.0H810.5zM832.5 513.8H843.9V522.0H832.5zM854.5 513.8H865.9V522.0H854.5zM810.5 521.6H821.9V529.8H810.5zM887.6 521.6H899.0V529.8H887.6zM623.3 529.4H634.7V537.6H623.3zM678.3 529.4H700.7V537.6H678.3zM722.4 529.4H733.8V537.6H722.4zM546.2 537.2H557.6V545.5H546.2zM634.3 537.2H645.7V545.5H634.3zM667.3 537.2H678.7V545.5H667.3zM700.3 537.2H711.8V545.5H700.3zM722.4 537.2H733.8V545.5H722.4zM766.4 537.2H777.8V545.5H766.4zM667.3 545.1H678.7V553.3H667.3zM116.6 771.4H304.3V779.6H116.6zM281.8 779.2H304.3V787.4H281.8z"/>
<path fill="#dddd51" d="M579.2 334.3H601.6V342.5H579.2zM601.2 342.1H612.6V350.3H601.2zM601.2 357.7H612.6V365.9H601.2zM722.4 381.1H733.8V389.4H722.4zM689.3 389.0H700.7V397.2H689.3zM711.4 412.4H722.8V420.6H711.4zM942.6 435.8H954.0V444.0H942.6zM876.6 560.7H888.0V568.9H876.6zM876.6 568.5H888.0V576.7H876.6z"/>
<path fill="#ebeb41" d="M579.2 342.1H590.6V350.3H579.2zM579.2 357.7H590.6V365.9H579.2zM711.4 404.6H722.8V412.8H711.4zM942.6 428.0H954.0V436.2H942.6z"/>
<path fill="#f5f537" d="M590.2 342.1H601.6V350.3H590.2zM590.2 357.7H601.6V365.9H590.2zM700.3 396.8H711.8V405.0H700.3z"/>
<path fill="#f0f03c" d="M579.2 349.9H590.6V358.1H579.2zM535.1 389.0H546.6V397.2H535.1zM700.3 389.0H711.8V397.2H700.3z"/>
<path fill="#fafa32" d="M590.2 349.9H601.6V358.1H590.2zM711.4 389.0H722.8V397.2H711.4zM711.4 396.8H722.8V405.0H711.4z"/>
<path fill="#e9e944" d="M601.2 349.9H612.6V358.1H601.2zM711.4 381.1H722.8V389.4H711.4zM722.4 389.0H733.8V397.2H722.4zM535.1 396.8H546.6V405.0H535.1zM953.6 428.0H965.1V436.2H953.6z"/>
<path fill="#d3d35b" d="M645.3 349.9H656.7V358.1H645.3zM524.1 381.1H535.5V389.4H524.1zM623.3 381.1H645.7V389.4H623.3zM524.1 389.0H535.5V397.2H524.1zM634.3 389.0H645.7V397.2H634.3zM667.3 396.8H678.7V405.0H667.3zM601.2 404.6H612.6V412.8H601.2zM810.5 412.4H821.9V420.6H810.5zM722.4 420.2H733.8V428.4H722.4zM964.7 420.2H998.1V428.4H964.7zM931.6 428.0H943.0V436.2H931.6zM964.7 435.8H987.1V444.0H964.7zM788.5 576.3H799.9V584.5H788.5z"/>
<path fill="#cece60" d="M656.3 349.9H667.7V358.1H656.3zM568.2 365.5H579.6V373.7H568.2zM601.2 365.5H612.6V373.7H601.2zM546.2 373.3H568.6V381.5H546.2zM623.3 373.3H634.7V381.5H623.3zM590.2 389.0H601.6V397.2H590.2zM810.5 396.8H821.9V405.0H810.5zM546.2 404.6H557.6V412.8H546.2zM667.3 404.6H678.7V412.8H667.3zM711.4 420.2H722.8V428.4H711.4zM733.4 420.2H744.8V428.4H733.4zM865.5 568.5H877.0V576.7H865.5zM612.2 584.1H623.7V592.3H612.2zM777.4 584.1H788.9V592.3H777.4zM799.5 584.1H810.9V592.3H799.5z"/>
<path fill="#615fd8" d="M942.6 357.7H954.0V365.9H942.6zM788.5 490.4H799.9V498.6H788.5zM887.6 490.4H899.0V498.6H887.6zM755.4 513.8H766.8V522.0H755.4zM799.5 513.8H810.9V522.0H799.5zM711.4 545.1H722.8V553.3H711.4z"/>
<path fill="#dfdf4e" d="M579.2 365.5H601.6V373.7H579.2zM535.1 381.1H546.6V389.4H535.1zM722.4 404.6H733.8V412.8H722.4zM799.5 412.4H810.9V420.6H799.5z"/>
<path fill="#d1d15e" d="M568.2 373.3H590.6V381.5H568.2zM766.4 389.0H777.8V397.2H766.4zM788.5 396.8H799.9V405.0H788.5zM535.1 404.6H546.6V412.8H535.1zM678.3 404.6H689.7V412.8H678.3zM700.3 412.4H711.8V420.6H700.3zM788.5 412.4H799.9V420.6H788.5z"/>
<path fill="#d8d856" d="M546.2 381.1H557.6V389.4H546.2zM546.2 396.8H557.6V405.0H546.2zM810.5 404.6H821.9V412.8H810.5zM942.6 420.2H954.0V428.4H942.6zM953.6 435.8H965.1V444.0H953.6zM788.5 584.1H799.9V592.3H788.5z"/>
<path fill="#d6d659" d="M700.3 381.1H711.8V389.4H700.3zM678.3 389.0H689.7V397.2H678.3zM788.5 404.6H799.9V412.8H788.5zM953.6 420.2H965.1V428.4H953.6zM986.7 435.8H998.1V444.0H986.7zM601.2 584.1H612.6V592.3H601.2z"/>
<path fill="#dada53" d="M546.2 389.0H557.6V397.2H546.2zM678.3 396.8H689.7V405.0H678.3zM799.5 396.8H810.9V405.0H799.5zM689.3 404.6H700.7V412.8H689.3zM722.4 412.4H733.8V420.6H722.4z"/>
<path fill="#e7e747" d="M689.3 396.8H700.7V405.0H689.3zM722.4 396.8H733.8V405.0H722.4zM700.3 404.6H711.8V412.8H700.3z"/>
<path fill="#e4e449" d="M799.5 404.6H810.9V412.8H799.5zM975.7 428.0H998.1V436.2H975.7z"/>
<path fill="#e2e24c" d="M964.7 428.0H976.1V436.2H964.7z"/>
<path fill="#5c5add" d="M876.6 482.6H888.0V490.8H876.6zM700.3 506.0H711.8V514.2H700.3zM711.4 521.6H722.8V529.8H711.4zM755.4 521.6H766.8V529.8H755.4zM777.4 521.6H788.9V529.8H777.4zM601.2 529.4H612.6V537.6H601.2zM755.4 529.4H766.8V537.6H755.4z"/>
<path fill="#5f5cdb" d="M777.4 490.4H788.9V498.6H777.4zM799.5 506.0H810.9V514.2H799.5zM821.5 513.8H832.9V522.0H821.5zM887.6 513.8H899.0V522.0H887.6zM689.3 521.6H700.7V529.8H689.3zM843.5 521.6H854.9V529.8H843.5zM700.3 529.4H711.8V537.6H700.3zM843.5 529.4H854.9V537.6H843.5zM898.6 529.4H910.0V537.6H898.6zM645.3 537.2H667.7V545.5H645.3zM832.5 537.2H843.9V545.5H832.5zM601.2 560.7H612.6V568.9H601.2zM623.3 568.5H634.7V576.7H623.3z"/>
<path fill="#504de8" d="M865.5 490.4H877.0V498.6H865.5zM777.4 498.2H788.9V506.4H777.4zM766.4 506.0H777.8V514.2H766.4zM865.5 513.8H877.0V522.0H865.5zM623.3 545.1H634.7V553.3H623.3zM656.3 545.1H667.7V553.3H656.3zM612.2 560.7H623.7V568.9H612.2zM645.3 576.3H656.7V584.5H645.3z"/>
<path fill="#4b47ee" d="M876.6 490.4H888.0V498.6H876.6zM612.2 545.1H623.7V553.3H612.2zM645.3 545.1H656.7V553.3H645.3zM612.2 552.9H623.7V561.1H612.2zM634.3 568.5H645.7V576.7H634.3z"/>
<path fill="#5552e3" d="M766.4 498.2H777.8V506.4H766.4zM788.5 498.2H799.9V506.4H788.5zM766.4 513.8H777.8V522.0H766.4zM766.4 521.6H777.8V529.8H766.4zM612.2 529.4H623.7V537.6H612.2zM766.4 529.4H777.8V537.6H766.4zM832.5 529.4H843.9V537.6H832.5zM601.2 537.2H612.6V545.5H601.2zM634.3 576.3H645.7V584.5H634.3z"/>
<path fill="#4e4aea" d="M865.5 498.2H877.0V506.4H865.5zM876.6 513.8H888.0V522.0H876.6zM623.3 560.7H634.7V568.9H623.3z"/>
<path fill="#4844f2" d="M876.6 498.2H888.0V506.4H876.6zM876.6 506.0H888.0V514.2H876.6z"/>
<path fill="#5a57df" d="M887.6 498.2H899.0V506.4H887.6zM887.6 506.0H899.0V514.2H887.6zM700.3 513.8H711.8V522.0H700.3zM700.3 521.6H711.8V529.8H700.3zM821.5 521.6H832.9V529.8H821.5zM821.5 529.4H832.9V537.6H821.5zM623.3 537.2H634.7V545.5H623.3zM711.4 537.2H722.8V545.5H711.4zM601.2 545.1H612.6V553.3H601.2zM601.2 552.9H612.6V561.1H601.2z"/>
<path fill="#4c48ec" d="M777.4 506.0H788.9V514.2H777.4zM865.5 506.0H877.0V514.2H865.5zM612.2 537.2H623.7V545.5H612.2zM623.3 552.9H634.7V561.1H623.3z"/>
<path fill="#534fe6" d="M788.5 506.0H799.9V514.2H788.5zM777.4 513.8H788.9V522.0H777.4zM634.3 545.1H645.7V553.3H634.3zM656.3 568.5H667.7V576.7H656.3z"/>
<path fill="#5854e1" d="M788.5 513.8H799.9V522.0H788.5zM832.5 521.6H843.9V529.8H832.5zM711.4 529.4H722.8V537.6H711.4z"/>
<path fill="#4945f0" d="M634.3 552.9H645.7V561.1H634.3zM656.3 552.9H667.7V561.1H656.3zM634.3 560.7H645.7V568.9H634.3zM656.3 560.7H667.7V568.9H656.3z"/>
<path fill="#433ff9" d="M645.3 552.9H656.7V561.1H645.3zM645.3 560.7H656.7V568.9H645.3z"/>
<path fill="#4642f4" d="M645.3 568.5H656.7V576.7H645.3z"/>
</g></g>
<line x1="659.8" y1="779.2" x2="659.8" y2="154.8" stroke="#fff" stroke-width="3.9" stroke-dasharray="14.2 5.7"/>
<path d="M160.7 779.2v-11.1M160.7 154.8v11.1M204.8 779.2v-7.4M204.8 154.8v7.4M248.8 779.2v-7.4M248.8 154.8v7.4M292.9 779.2v-7.4M292.9 154.8v7.4M336.9 779.2v-11.1M336.9 154.8v11.1M381.0 779.2v-7.4M381.0 154.8v7.4M425.0 779.2v-7.4M425.0 154.8v7.4M469.1 779.2v-7.4M469.1 154.8v7.4M513.1 779.2v-11.1M513.1 154.8v11.1M557.2 779.2v-7.4M557.2 154.8v7.4M601.2 779.2v-7.4M601.2 154.8v7.4M645.3 779.2v-7.4M645.3 154.8v7.4M689.3 779.2v-11.1M689.3 154.8v11.1M733.4 779.2v-7.4M733.4 154.8v7.4M777.4 779.2v-7.4M777.4 154.8v7.4M821.5 779.2v-7.4M821.5 154.8v7.4M865.5 779.2v-11.1M865.5 154.8v11.1M909.6 779.2v-7.4M909.6 154.8v7.4M953.6 779.2v-7.4M953.6 154.8v7.4M997.7 779.2v-7.4M997.7 154.8v7.4M160.7 771.4h7.4M997.7 771.4h-7.4M160.7 748.0h11.1M997.7 748.0h-11.1M160.7 724.6h7.4M997.7 724.6h-7.4M160.7 701.2h7.4M997.7 701.2h-7.4M160.7 677.7h7.4M997.7 677.7h-7.4M160.7 654.3h11.1M997.7 654.3h-11.1M160.7 630.9h7.4M997.7 630.9h-7.4M160.7 607.5h7.4M997.7 607.5h-7.4M160.7 584.1h7.4M997.7 584.1h-7.4M160.7 560.7h11.1M997.7 560.7h-11.1M160.7 537.2h7.4M997.7 537.2h-7.4M160.7 513.8h7.4M997.7 513.8h-7.4M160.7 490.4h7.4M997.7 490.4h-7.4M160.7 467.0h11.1M997.7 467.0h-11.1M160.7 443.6h7.4M997.7 443.6h-7.4M160.7 420.2h7.4M997.7 420.2h-7.4M160.7 396.8h7.4M997.7 396.8h-7.4M160.7 373.3h11.1M997.7 373.3h-11.1M160.7 349.9h7.4M997.7 349.9h-7.4M160.7 326.5h7.4M997.7 326.5h-7.4M160.7 303.1h7.4M997.7 303.1h-7.4M160.7 279.7h11.1M997.7 279.7h-11.1M160.7 256.3h7.4M997.7 256.3h-7.4M160.7 232.9h7.4M997.7 232.9h-7.4M160.7 209.4h7.4M997.7 209.4h-7.4M160.7 186.0h11.1M997.7 186.0h-11.1M160.7 162.6h7.4M997.7 162.6h-7.4" stroke="#000" stroke-width="3.3" fill="none"/>
<rect x="160.7" y="154.8" width="837.0" height="624.4" fill="none" stroke="#000" stroke-width="3.3"/>
<defs><linearGradient id="cb" x1="0" x2="1" y1="0" y2="0"><stop offset="0.000" stop-color="#3e3aff"/><stop offset="0.050" stop-color="#4440f7"/><stop offset="0.100" stop-color="#4b47ee"/><stop offset="0.150" stop-color="#534fe6"/><stop offset="0.200" stop-color="#5c5add"/><stop offset="0.250" stop-color="#6664d4"/><stop offset="0.300" stop-color="#7170c8"/><stop offset="0.350" stop-color="#7c7cbc"/><stop offset="0.400" stop-color="#8787b0"/><stop offset="0.450" stop-color="#9090a5"/><stop offset="0.500" stop-color="#999999"/><stop offset="0.550" stop-color="#a3a38f"/><stop offset="0.600" stop-color="#acac84"/><stop offset="0.650" stop-color="#b6b67a"/><stop offset="0.700" stop-color="#c0c070"/><stop offset="0.750" stop-color="#caca66"/><stop offset="0.800" stop-color="#d3d35b"/><stop offset="0.850" stop-color="#dddd51"/><stop offset="0.900" stop-color="#e7e747"/><stop offset="0.950" stop-color="#f0f03c"/><stop offset="1.000" stop-color="#fafa32"/></linearGradient></defs>
<rect x="241.65" y="98.85" width="648.40" height="40.00" fill="url(#cb)"/>
<path d="M241.7 98.85v11.1M403.8 98.85v11.1M565.9 98.85v11.1M727.9 98.85v11.1M890.0 98.85v11.1" stroke="#000" stroke-width="3.3"/>
<rect x="241.65" y="98.85" width="648.40" height="40.00" fill="none" stroke="#000" stroke-width="3.3"/>
<text x="241.7" y="76.5" text-anchor="middle">-10.0</text>
<text x="403.8" y="76.5" text-anchor="middle">-5.0</text>
<text x="565.9" y="76.5" text-anchor="middle">0.0</text>
<text x="727.9" y="76.5" text-anchor="middle">5.0</text>
<text x="890.0" y="76.5" text-anchor="middle">10.0</text>
<text x="565.9" y="29.7" text-anchor="middle"><tspan font-style="italic">B</tspan> [G]</text>
<text x="147.7" y="763.6" text-anchor="end">0.9</text>
<text transform="translate(56.5 767.3) scale(1.24 1)">−</text>
<text x="147.7" y="669.9" text-anchor="end">0.6</text>
<text transform="translate(56.5 673.6) scale(1.24 1)">−</text>
<text x="147.7" y="576.3" text-anchor="end">0.3</text>
<text transform="translate(56.5 580.0) scale(1.24 1)">−</text>
<text x="147.7" y="482.6" text-anchor="end">0.0</text>
<text x="147.7" y="388.9" text-anchor="end">0.3</text>
<text x="147.7" y="295.3" text-anchor="end">0.6</text>
<text x="147.7" y="201.6" text-anchor="end">0.9</text>
<text x="160.7" y="823.5" text-anchor="middle">2018</text>
<text x="336.9" y="823.5" text-anchor="middle">2020</text>
<text x="513.1" y="823.5" text-anchor="middle">2022</text>
<text x="689.3" y="823.5" text-anchor="middle">2024</text>
<text x="865.5" y="823.5" text-anchor="middle">2026</text>
<text class="al" style="font-size:44.5px" x="578" y="878" text-anchor="middle">Time [Years]</text>
<text class="al" transform="translate(31 467) rotate(-90)" text-anchor="middle">Sine of Latitude</text>
</svg>
</body></html>
